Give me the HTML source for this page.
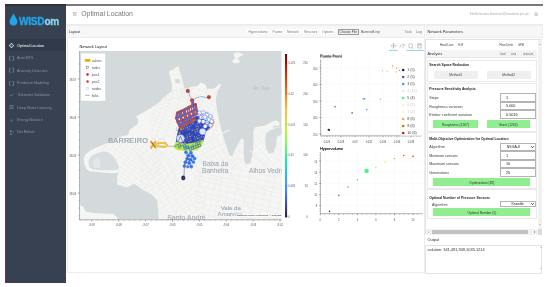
<!DOCTYPE html>
<html><head><meta charset="utf-8">
<style>
*{box-sizing:border-box;margin:0;padding:0}
html,body{width:550px;height:287px;overflow:hidden;background:#fff}
body{position:relative;font-family:"Liberation Sans",Arial,sans-serif;color:#333}
.a{position:absolute;white-space:nowrap}
.sb{position:absolute;left:5px;top:4px;width:61px;height:279px;background:#374151;border-left:1px solid #6b3446}
.si{position:absolute;left:11px;font-size:3.65px;color:#8892a3;line-height:4px}
.ic{position:absolute;left:3.5px;width:3.6px;height:3.6px;border:0.7px solid #7d8797}
.t33{font-size:3.3px;line-height:4px}
.t39{font-size:3.9px;line-height:5px}
.lbl{font-size:3.65px;color:#3c3c3c;line-height:4px}
.inp{position:absolute;left:500px;width:35.7px;height:8.5px;border:0.55px solid #b4b4b4;background:#fff;font-size:3.75px;line-height:7.3px;padding-left:5px;padding-top:0.8px;color:#222}
.gb{position:absolute;background:#90ee90;height:8px;font-size:3.3px;line-height:8px;text-align:center;color:#333;padding-top:1.1px}
.card{position:absolute;left:427px;width:110px;border:0.5px solid #e9e9e9;background:#fff}
.bt{font-weight:bold;font-size:3.4px;color:#222;line-height:4px}
</style></head><body>
<!-- sidebar -->
<div class="sb">
  <!-- logo -->
  <svg class="a" style="left:3px;top:9px" width="9" height="13" viewBox="0 0 9 13"><path d="M4.5 0.2 C5.2 2.5 8.4 5.6 8.4 8.6 A3.9 3.9 0 0 1 0.6 8.6 C0.6 5.6 3.8 2.5 4.5 0.2Z" fill="#1ea7e8"/></svg>
  <div class="a" style="left:12.9px;top:13.2px;font-size:10px;font-weight:bold;line-height:10px;letter-spacing:-0.15px;-webkit-text-stroke:0.3px"><span style="color:#1ea7e8">WISD</span><span style="color:#8fd6f2">om</span></div>
  <div class="a" style="left:0;top:35.4px;width:60px;height:12px;background:#313a4a"></div>
  <svg class="a" style="left:2.8px;top:39px" width="5" height="5" viewBox="0 0 5 5"><circle cx="2.5" cy="2.5" r="1.7" fill="none" stroke="#fff" stroke-width="0.7"/><path d="M2.5 0v1M2.5 4v1M0 2.5h1M4 2.5h1" stroke="#fff" stroke-width="0.6"/></svg>
  <div class="si" style="top:39.5px;color:#fff">Optimal Location</div>
  <svg class="a" style="left:3.4px;top:52.0px" width="5" height="5" viewBox="0 0 5 5"><path d="M1.6 0.5H0.5V4.3H1.6M3.4 0.5H4.5V4.3H3.4" fill="none" stroke="#7d8797" stroke-width="0.75"/></svg><div class="si" style="top:52.4px">Auto MTS</div>
  <svg class="a" style="left:3.4px;top:64.3px" width="5" height="5" viewBox="0 0 5 5"><path d="M1.6 0.5H0.5V4.3H1.6M3.4 0.5H4.5V4.3H3.4" fill="none" stroke="#7d8797" stroke-width="0.75"/></svg><div class="si" style="top:64.7px">Anomaly Detection</div>
  <svg class="a" style="left:3.4px;top:76.6px" width="5" height="5" viewBox="0 0 5 5"><path d="M1.6 0.5H0.5V4.3H1.6M3.4 0.5H4.5V4.3H3.4" fill="none" stroke="#7d8797" stroke-width="0.75"/></svg><div class="si" style="top:77.1px">Predictive Modeling</div>
  <svg class="a" style="left:3px;top:89px" width="5" height="4" viewBox="0 0 5 4"><path d="M0.2 3.6 L1.6 1.8 L2.6 2.8 L4.6 0.5" fill="none" stroke="#7d8797" stroke-width="0.6"/></svg>
  <div class="si" style="top:89.4px">Telemeter Validation</div>
  <svg class="a" style="left:3px;top:101.4px" width="5" height="4" viewBox="0 0 5 4"><path d="M0.3 0.6h4.4M0.3 2h4.4M0.3 3.4h4.4" stroke="#7d8797" stroke-width="0.7"/></svg>
  <div class="si" style="top:101.7px">Deep Water Learning</div>
  <svg class="a" style="left:3px;top:113.5px" width="5" height="5" viewBox="0 0 5 5"><path d="M2.7 0.3 L1.5 2.6 H2.6 L2 4.7 L3.5 2.1 H2.4Z" fill="#7d8797"/></svg>
  <div class="si" style="top:114.4px">Energy Balance</div>
  <svg class="a" style="left:3px;top:125.5px" width="6" height="5" viewBox="0 0 6 5"><circle cx="1.8" cy="1.3" r="1" fill="#7d8797"/><path d="M0.2 4.6 C0.3 3 3.3 3 3.4 4.6Z" fill="#7d8797"/><path d="M3.6 3 L4.6 1.5 L5.6 0.6" stroke="#7d8797" stroke-width="0.5" fill="none"/></svg>
  <div class="si" style="top:126.4px">Net Rehab</div>
</div>
<!-- top bar -->
<div class="a" style="left:5px;top:3.8px;width:538px;height:2.2px;background:#7a7a7a"></div>
<div class="a" style="left:5px;top:3.8px;width:61px;height:2.2px;background:#2c333f"></div>
<!-- header -->
<svg class="a" style="left:73px;top:12px" width="4" height="4" viewBox="0 0 4 4"><path d="M0 0.6h3.6M0 1.9h3.6M0 3.2h3.6" stroke="#aaa" stroke-width="0.7"/></svg>
<div class="a" style="left:81.2px;top:9.8px;font-size:6.9px;color:#777;line-height:8px">Optimal Location</div>
<div class="a" style="left:470.1px;top:12.3px;font-size:3.7px;color:#aaa;line-height:4px">Hello bruno.brentan@wisdom.ips.pt</div>
<svg class="a" style="left:534px;top:12.2px" width="4.4" height="4.4" viewBox="0 0 4.4 4.4"><circle cx="2.2" cy="2.2" r="1.5" fill="none" stroke="#aaa" stroke-width="0.7"/><circle cx="2.2" cy="2.2" r="0.5" fill="#aaa"/></svg>
<div class="a" style="left:66px;top:23.5px;width:477px;height:0.5px;background:#ececec"></div>

<!-- Layout card -->
<div class="a" style="left:67.3px;top:25.2px;width:358px;height:248.3px;border:0.5px solid #ededed;background:#fff"></div>
<div class="a" style="left:67.3px;top:25.2px;width:358px;height:12.4px;background:#f7f7f7;border:0.5px solid #ededed"></div>
<div class="a t39" style="left:68.7px;top:29.5px;font-size:3.8px;color:#333">Layout</div>
<!-- tabs -->
<div class="a" style="left:246.5px;top:29.3px;width:22.9px;height:5px;background:#fff;border-radius:1px"></div>
<div class="a" style="left:270.7px;top:29.3px;width:13px;height:5px;background:#fff;border-radius:1px"></div>
<div class="a" style="left:285.3px;top:29.3px;width:15.7px;height:5px;background:#fff;border-radius:1px"></div>
<div class="a" style="left:302.3px;top:29.3px;width:16.7px;height:5px;background:#fff;border-radius:1px"></div>
<div class="a" style="left:320.4px;top:29.3px;width:15px;height:5px;background:#fff;border-radius:1px"></div>
<div class="a t33" style="left:248.5px;top:29.8px;color:#777">Hypervolume</div>
<div class="a t33" style="left:272.6px;top:29.8px;color:#777">Pareto</div>
<div class="a t33" style="left:287px;top:29.8px;color:#777">Network</div>
<div class="a t33" style="left:304.1px;top:29.8px;color:#777">Structure</div>
<div class="a t33" style="left:322.1px;top:29.8px;color:#777">Options</div>
<div class="a" style="left:338px;top:28.6px;width:21.2px;height:6.5px;background:#efefef;border:0.5px solid #9a9a9a;border-radius:0.8px"></div>
<div class="a t33" style="left:339.6px;top:29.8px;color:#444">Choose File</div>
<div class="a t33" style="left:360.9px;top:29.8px;color:#555">Barreiro8.inp</div>
<div class="a t33" style="left:404.8px;top:29.8px;color:#777">Task</div>
<div class="a t33" style="left:416px;top:29.8px;color:#777">Log</div>

<div class="a" style="left:79.4px;top:44px;font-size:3.95px;color:#222;line-height:5px">Network Layout</div>

<!-- MAP -->
<svg class="a" style="left:0;top:0" width="550" height="287" viewBox="0 0 550 287">
<defs><clipPath id="mc"><rect x="80.0" y="51.0" width="201.7" height="168.6"/></clipPath>
<linearGradient id="cb" x1="0" y1="0" x2="0" y2="1"><stop offset="0.000" stop-color="#7a0402"/><stop offset="0.050" stop-color="#a01101"/><stop offset="0.100" stop-color="#c32402"/><stop offset="0.150" stop-color="#dd3c07"/><stop offset="0.200" stop-color="#ef5a11"/><stop offset="0.250" stop-color="#fa7d20"/><stop offset="0.300" stop-color="#fda330"/><stop offset="0.350" stop-color="#f6c23a"/><stop offset="0.400" stop-color="#e1dc37"/><stop offset="0.450" stop-color="#c3f133"/><stop offset="0.500" stop-color="#a4fc3b"/><stop offset="0.550" stop-color="#78fe59"/><stop offset="0.600" stop-color="#46f783"/><stop offset="0.650" stop-color="#20e9ac"/><stop offset="0.700" stop-color="#18d5cc"/><stop offset="0.750" stop-color="#28bbeb"/><stop offset="0.800" stop-color="#3e9bfe"/><stop offset="0.850" stop-color="#467af2"/><stop offset="0.900" stop-color="#4458cb"/><stop offset="0.950" stop-color="#3c358b"/><stop offset="1.000" stop-color="#30123b"/></linearGradient></defs>
<g clip-path="url(#mc)">
<rect x="80.0" y="51.0" width="201.7" height="168.6" fill="#d4dadc"/>
<polygon points="79.0,204.5 83.3,206.7 85.6,211.2 93.4,212.9 113.5,214.0 116.8,216.8 118.0,220.5 79.0,220.5" fill="#f5f5f4"/>
<polygon points="158.5,220.5 158.6,216.6 157.8,206.7 157.5,200.5 151.8,194.8 142.0,189.2 134.4,183.7 126.7,187.4 117.0,184.6 117.4,176.0 118.4,172.9 112.0,173.3 104.0,172.7 97.0,171.9 93.0,171.6 89.8,171.6 86.5,169.0 84.5,164.5 83.6,158.6 85.3,154.5 90.7,150.3 97.8,146.7 107.3,143.2 114.9,139.6 122.0,136.2 128.1,135.0 129.5,129.9 132.3,127.8 137.6,124.2 138.4,119.6 135.8,116.8 150.0,108.6 160.0,101.8 163.5,97.5 171.3,91.4 172.2,86.1 169.6,74.8 168.7,71.8 178.3,66.1 178.8,67.8 181.8,77.4 184.4,88.7 191.4,87.0 197.5,86.1 201.0,82.6 205.3,84.4 207.0,88.7 214.0,88.7 220.1,83.5 221.0,85.3 217.5,91.4 215.7,100.0 217.3,111.3 219.5,122.6 221.7,131.3 225.5,143.7 229.4,155.2 232.2,156.2 234.2,151.4 237.0,145.7 240.3,140.2 242.1,137.9 243.8,140.5 243.6,152.0 244.0,160.0 246.0,164.5 250.5,163.0 253.2,150.0 253.4,131.0 255.0,127.5 283.0,127.5 283.0,220.5" fill="#f5f5f4"/>
<polygon points="174.8,79.5 179.5,78.8 180.3,83.5 176.0,83.0" fill="#d4dadc"/>
<polygon points="265.5,134.0 269.0,131.0 274.0,128.5 283.0,127.4 283.0,133.0 277.0,137.0 276.0,146.0 273.5,152.5 269.0,153.6 266.2,149.0 265.3,141.0" fill="#d4dadc"/>
<polygon points="255.0,127.5 265.0,125.5 272.5,121.5 276.3,120.3 280.0,123.5 278.5,126.5 275.0,125.2 269.0,129.5 265.5,134.0 255.0,134.0" fill="#f5f5f4"/>
<polygon points="234.0,53.0 238.0,52.2 243.5,54.3 241.0,56.3 238.5,57.3 237.5,59.3 239.6,60.3 239.5,63.1 233.0,63.3 232.5,60.6 235.0,58.2 234.0,56.0" fill="#f4f4f3"/>
<clipPath id="lc"><polygon points="79.0,204.5 83.3,206.7 85.6,211.2 93.4,212.9 113.5,214.0 116.8,216.8 118.0,220.5 79.0,220.5"/><polygon points="158.5,220.5 158.6,216.6 157.8,206.7 157.5,200.5 151.8,194.8 142.0,189.2 134.4,183.7 126.7,187.4 117.0,184.6 117.4,176.0 118.4,172.9 112.0,173.3 104.0,172.7 97.0,171.9 93.0,171.6 89.8,171.6 86.5,169.0 84.5,164.5 83.6,158.6 85.3,154.5 90.7,150.3 97.8,146.7 107.3,143.2 114.9,139.6 122.0,136.2 128.1,135.0 129.5,129.9 132.3,127.8 137.6,124.2 138.4,119.6 135.8,116.8 150.0,108.6 160.0,101.8 163.5,97.5 171.3,91.4 172.2,86.1 169.6,74.8 168.7,71.8 178.3,66.1 178.8,67.8 181.8,77.4 184.4,88.7 191.4,87.0 197.5,86.1 201.0,82.6 205.3,84.4 207.0,88.7 214.0,88.7 220.1,83.5 221.0,85.3 217.5,91.4 215.7,100.0 217.3,111.3 219.5,122.6 221.7,131.3 225.5,143.7 229.4,155.2 232.2,156.2 234.2,151.4 237.0,145.7 240.3,140.2 242.1,137.9 243.8,140.5 243.6,152.0 244.0,160.0 246.0,164.5 250.5,163.0 253.2,150.0 253.4,131.0 255.0,127.5 283.0,127.5 283.0,220.5"/></clipPath>
<g clip-path="url(#lc)" stroke="#e4e5e6" stroke-width="0.35" fill="none">
<path d="M159.1 138.0L162.0 140.1M152.5 138.0L162.0 144.7M147.4 138.0L162.0 148.2M141.2 138.0L162.0 152.5M136.1 138.0L162.0 156.1M128.4 138.0L162.0 161.5M121.7 138.0L162.0 166.2M115.7 138.0L162.0 170.4M110.7 138.0L162.0 173.9M105.4 138.0L162.0 177.6M99.0 138.0L162.0 182.1M96.0 140.0L162.0 186.2M96.0 144.4L161.1 190.0M96.0 149.9L153.3 190.0M96.0 154.8L146.3 190.0M96.0 158.7L140.7 190.0M96.0 163.7L133.6 190.0M96.0 167.7L127.8 190.0M96.0 172.0L121.7 190.0M96.0 176.6L115.1 190.0M96.0 181.5L108.1 190.0M96.0 186.6L100.9 190.0M102.3 138.0L96.0 147.0M111.3 138.0L96.0 159.8M118.5 138.0L96.0 170.1M125.3 138.0L96.0 179.8M131.3 138.0L96.0 188.5M141.4 138.0L105.0 190.0M148.5 138.0L112.1 190.0M155.4 138.0L118.9 190.0M162.0 141.5L128.0 190.0M162.0 153.3L136.3 190.0M162.0 163.6L143.5 190.0M162.0 174.8L151.3 190.0M162.0 185.9L159.1 190.0"/>
<path d="M140.0 155.2L148.4 150.0M140.0 161.7L158.8 150.0M140.0 166.0L165.7 150.0M140.0 172.1L175.4 150.0M140.0 177.5L184.0 150.0M140.0 181.2L190.0 150.0M140.0 186.4L198.2 150.0M140.0 193.0L205.0 152.3M140.0 197.7L205.0 157.1M140.0 202.0L205.0 161.4M140.0 206.8L205.0 166.2M140.0 211.1L205.0 170.5M140.0 215.1L205.0 174.5M142.5 220.0L205.0 181.0M151.7 220.0L205.0 186.7M158.4 220.0L205.0 190.9M165.6 220.0L205.0 195.4M171.8 220.0L205.0 199.2M181.8 220.0L205.0 205.5M192.1 220.0L205.0 212.0M202.6 220.0L205.0 218.5M140.0 210.4L146.0 220.0M140.0 197.0L154.3 220.0M140.0 179.1L165.6 220.0M140.0 167.1L173.0 220.0M140.0 154.7L180.8 220.0M145.9 150.0L189.6 220.0M152.3 150.0L196.1 220.0M159.4 150.0L203.2 220.0M169.8 150.0L205.0 206.4M178.4 150.0L205.0 192.6M185.6 150.0L205.0 181.1M193.4 150.0L205.0 168.6M202.8 150.0L205.0 153.5"/>
<path d="M256.6 168.0L284.0 173.8M232.8 168.0L284.0 178.9M202.3 168.0L284.0 185.4M195.0 171.7L284.0 190.6M195.0 175.5L284.0 194.4M195.0 179.3L284.0 198.2M195.0 185.0L284.0 204.0M195.0 191.3L284.0 210.2M195.0 195.5L284.0 214.4M195.0 201.5L284.0 220.5M195.0 207.0L260.7 221.0M195.0 212.8L233.5 221.0M195.0 218.1L208.9 221.0M202.4 168.0L195.0 202.6M211.9 168.0L200.6 221.0M218.4 168.0L207.2 221.0M224.6 168.0L213.3 221.0M232.6 168.0L221.3 221.0M241.0 168.0L229.7 221.0M251.5 168.0L240.3 221.0M260.7 168.0L249.4 221.0M269.9 168.0L258.6 221.0M276.9 168.0L265.6 221.0M284.0 180.5L275.4 221.0M284.0 217.9L283.3 221.0"/>
<path d="M211.3 88.0L218.0 90.7M203.2 88.0L218.0 94.0M194.4 88.0L218.0 97.5M180.0 88.0L218.0 103.3M170.2 88.0L218.0 107.3M159.9 88.0L218.0 111.5M151.1 88.0L218.0 115.0M150.0 93.0L218.0 120.5M150.0 96.5L218.0 124.0M150.0 100.1L218.0 127.6M150.0 103.5L218.0 131.0M150.0 108.5L218.0 136.0M150.0 112.5L218.0 140.0M150.0 116.0L209.3 140.0M150.0 119.7L200.2 140.0M150.0 123.1L191.8 140.0M150.0 128.4L178.8 140.0M150.0 133.8L165.4 140.0M150.0 137.4L156.4 140.0M154.2 88.0L150.0 98.5M163.9 88.0L150.0 122.3M169.4 88.0L150.0 136.0M175.3 88.0L154.3 140.0M184.3 88.0L163.3 140.0M193.2 88.0L172.2 140.0M200.2 88.0L179.2 140.0M207.8 88.0L186.8 140.0M217.1 88.0L196.0 140.0M218.0 102.0L202.6 140.0M218.0 121.7L210.6 140.0"/>
<path d="M222.0 132.1L226.6 128.0M222.0 138.4L233.5 128.0M222.0 145.2L241.2 128.0M222.0 149.7L246.2 128.0M222.0 154.8L251.8 128.0M222.0 160.1L257.6 128.0M222.0 167.0L265.3 128.0M225.3 168.0L269.7 128.0M231.5 168.0L275.9 128.0M239.3 168.0L283.7 128.0M244.4 168.0L284.0 132.3M252.4 168.0L284.0 139.5M257.8 168.0L284.0 144.4M263.0 168.0L284.0 149.1M270.7 168.0L284.0 156.1M277.2 168.0L284.0 161.9M283.0 168.0L284.0 167.1M222.0 159.2L229.9 168.0M222.0 150.5L237.8 168.0M222.0 139.9L247.3 168.0M222.0 130.2L256.0 168.0M229.2 128.0L265.2 168.0M240.3 128.0L276.3 168.0M249.9 128.0L284.0 165.9M259.3 128.0L284.0 155.4M271.2 128.0L284.0 142.2M280.6 128.0L284.0 131.8"/>
<path d="M235.9 138.0L240.0 145.1M231.3 138.0L240.0 153.1M227.0 138.0L240.0 160.6M222.2 138.0L240.0 168.9M215.8 138.0L234.2 170.0M209.4 138.0L227.9 170.0M204.1 138.0L222.6 170.0M200.0 138.1L218.4 170.0M200.0 147.2L213.2 170.0M200.0 157.2L207.4 170.0M200.0 166.4L202.1 170.0M216.5 138.0L200.0 147.5M231.2 138.0L200.0 156.0M240.0 140.1L200.0 163.2M240.0 150.0L205.3 170.0M240.0 157.0L217.5 170.0M240.0 163.4L228.5 170.0"/>
<path d="M189.4 60.0L190.0 63.3M185.1 60.0L190.0 87.7M181.9 60.0L189.0 100.0M178.7 60.0L185.8 100.0M176.0 60.0L183.0 100.0M171.6 60.0L178.6 100.0M166.8 60.0L173.9 100.0M162.8 60.0L169.8 100.0M160.0 64.0L166.4 100.0M160.0 84.9L162.7 100.0M189.1 60.0L160.0 65.1M190.0 67.0L160.0 72.3M190.0 72.2L160.0 77.4M190.0 79.7L160.0 85.0M190.0 87.7L160.0 93.0M190.0 95.5L164.4 100.0"/>
</g>
<polygon points="88.6,160.0 91.5,155.8 97.5,153.0 103.5,151.6 108.0,152.2 112.5,155.5 116.5,161.0 119.0,167.0 118.0,169.8 112.0,170.3 105.0,169.9 98.0,170.1 93.0,169.6 89.6,167.8 88.4,163.5" fill="#d8dee0"/>
<polygon points="93.2,160.5 97.5,157.8 100.6,161.5 100.0,167.5 95.5,168.3 93.2,165.5" fill="#e3e7e8"/>
<polyline points="160.0,186.0 175.0,168.0 190.0,150.0 205.0,140.0 230.0,130.0" fill="none" stroke="#e2e3e4" stroke-width="1.2"/>
<polyline points="160.0,186.0 175.0,168.0 190.0,150.0 205.0,140.0 230.0,130.0" fill="none" stroke="#fdfdfd" stroke-width="0.7"/>
<polyline points="205.0,182.0 225.0,178.0 250.0,176.0 283.0,174.0" fill="none" stroke="#e2e3e4" stroke-width="1.2"/>
<polyline points="205.0,182.0 225.0,178.0 250.0,176.0 283.0,174.0" fill="none" stroke="#fdfdfd" stroke-width="0.7"/>
<polyline points="170.0,200.0 190.0,195.0 215.0,197.0 240.0,190.0 283.0,186.0" fill="none" stroke="#e2e3e4" stroke-width="1.2"/>
<polyline points="170.0,200.0 190.0,195.0 215.0,197.0 240.0,190.0 283.0,186.0" fill="none" stroke="#fdfdfd" stroke-width="0.7"/>
<polyline points="160.0,150.0 170.0,160.0 175.0,175.0 176.0,200.0 178.0,219.0" fill="none" stroke="#e2e3e4" stroke-width="1.2"/>
<polyline points="160.0,150.0 170.0,160.0 175.0,175.0 176.0,200.0 178.0,219.0" fill="none" stroke="#fdfdfd" stroke-width="0.7"/>
<polyline points="135.0,150.0 145.0,165.0 150.0,185.0" fill="none" stroke="#e2e3e4" stroke-width="1.2"/>
<polyline points="135.0,150.0 145.0,165.0 150.0,185.0" fill="none" stroke="#fdfdfd" stroke-width="0.7"/>
<polyline points="200.0,150.0 210.0,160.0 222.0,168.0 233.0,178.0 245.0,200.0 255.0,219.0" fill="none" stroke="#e2e3e4" stroke-width="1.2"/>
<polyline points="200.0,150.0 210.0,160.0 222.0,168.0 233.0,178.0 245.0,200.0 255.0,219.0" fill="none" stroke="#fdfdfd" stroke-width="0.7"/>
<polyline points="140.0,165.0 158.0,158.0 168.0,150.0" fill="none" stroke="#e2e3e4" stroke-width="1.2"/>
<polyline points="140.0,165.0 158.0,158.0 168.0,150.0" fill="none" stroke="#fdfdfd" stroke-width="0.7"/>
<polyline points="190.0,190.0 200.0,175.0 215.0,165.0" fill="none" stroke="#e2e3e4" stroke-width="1.2"/>
<polyline points="190.0,190.0 200.0,175.0 215.0,165.0" fill="none" stroke="#fdfdfd" stroke-width="0.7"/>
<polyline points="250.0,150.0 260.0,160.0 270.0,168.0" fill="none" stroke="#e2e3e4" stroke-width="1.2"/>
<polyline points="250.0,150.0 260.0,160.0 270.0,168.0" fill="none" stroke="#fdfdfd" stroke-width="0.7"/>
<text x="108.3" y="142.6" font-size="7.3" letter-spacing="0.2" fill="#939dab" stroke="#939dab" stroke-width="0.18" font-family="Liberation Sans">BARREIRO</text>
<text x="202.5" y="166.4" font-size="6.6" fill="#a3abb6" stroke="#a3abb6" stroke-width="0.1" font-family="Liberation Sans">Baixa da</text>
<text x="202" y="173" font-size="6.6" fill="#a3abb6" stroke="#a3abb6" stroke-width="0.1" font-family="Liberation Sans">Banheira</text>
<text x="249" y="172.7" font-size="6.6" fill="#a3abb6" stroke="#a3abb6" stroke-width="0.1" font-family="Liberation Sans">Alhos Vedros</text>
<text x="220.7" y="210.4" font-size="6.1" fill="#a0a9b8" stroke="#a0a9b8" stroke-width="0.1" font-family="Liberation Sans">Vale da</text>
<text x="217.6" y="216" font-size="6.1" fill="#a0a9b8" stroke="#a0a9b8" stroke-width="0.1" font-family="Liberation Sans">Amoreira</text>
<text x="167.2" y="219.6" font-size="7" fill="#a0a9b8" stroke="#a0a9b8" stroke-width="0.1" font-family="Liberation Sans">Santo André</text>
<text x="253" y="89.5" font-size="4.5" fill="#b8bec4" font-family="Liberation Sans">Rio Tejo</text>
<text x="175.8" y="131" font-size="5" fill="#b0b6be" font-family="Liberation Sans">Lavradio</text>
<polyline points="188.2,91 190,96 192.2,100.4" fill="none" stroke="#4a68d6" stroke-width="0.45"/>
<polyline points="192.2,100.4 195,98.5 198,97.3 202,96.6 206,97.5 209.1,96.9" fill="none" stroke="#4a68d6" stroke-width="0.45"/>
<polyline points="192.2,100.4 192.5,104" fill="none" stroke="#4a68d6" stroke-width="0.45"/>
<circle cx="187.8" cy="90.9" r="1.85" fill="#cf3a1c" stroke="#a8301c" stroke-width="0.30"/>
<circle cx="187.8" cy="90.9" r="0.60" fill="#4a5cc8"/>
<circle cx="192.1" cy="100.3" r="1.85" fill="#cf3a1c" stroke="#a8301c" stroke-width="0.30"/>
<circle cx="192.1" cy="100.3" r="0.60" fill="#4a5cc8"/>
<circle cx="208.9" cy="97.1" r="1.85" fill="#cf3a1c" stroke="#a8301c" stroke-width="0.30"/>
<circle cx="208.9" cy="97.1" r="0.60" fill="#4a5cc8"/>
<polygon points="180.5,123.5 186.0,121.0 192.0,118.5 197.0,116.0 200.5,117.5 205.0,120.5 211.0,123.0 209.5,128.0 205.2,132.0 204.2,137.0 202.8,141.5 199.0,143.8 192.0,144.8 186.0,145.2 180.0,144.8 176.2,143.0 177.0,137.0 178.5,130.0" fill="#3150c6" stroke="#3150c6" stroke-width="0.8" stroke-linejoin="round"/>
<line x1="177.5" y1="140.9" x2="179.5" y2="139.9" stroke="#2540b4" stroke-width="0.70"/>
<line x1="177.5" y1="140.9" x2="178.2" y2="143.1" stroke="#4a6ae0" stroke-width="0.70"/>
<line x1="178.2" y1="143.1" x2="180.1" y2="142.4" stroke="#1f36a8" stroke-width="0.70"/>
<line x1="178.3" y1="135.5" x2="180.1" y2="134.9" stroke="#4a6ae0" stroke-width="0.70"/>
<line x1="178.3" y1="135.5" x2="178.9" y2="138.0" stroke="#1f36a8" stroke-width="0.70"/>
<line x1="178.9" y1="138.0" x2="180.8" y2="137.0" stroke="#4a6ae0" stroke-width="0.70"/>
<line x1="178.9" y1="138.0" x2="179.5" y2="139.9" stroke="#2540b4" stroke-width="0.70"/>
<line x1="179.5" y1="139.9" x2="181.4" y2="139.4" stroke="#2540b4" stroke-width="0.70"/>
<line x1="179.5" y1="139.9" x2="180.1" y2="142.4" stroke="#2540b4" stroke-width="0.70"/>
<line x1="180.1" y1="142.4" x2="182.0" y2="141.6" stroke="#2a44bc" stroke-width="0.70"/>
<line x1="180.1" y1="142.4" x2="180.6" y2="144.3" stroke="#2540b4" stroke-width="0.70"/>
<line x1="180.6" y1="144.3" x2="182.8" y2="143.6" stroke="#2a44bc" stroke-width="0.70"/>
<line x1="178.8" y1="130.6" x2="181.1" y2="129.5" stroke="#1f36a8" stroke-width="0.70"/>
<line x1="178.8" y1="130.6" x2="179.6" y2="132.8" stroke="#2540b4" stroke-width="0.70"/>
<line x1="179.6" y1="132.8" x2="181.7" y2="132.1" stroke="#2540b4" stroke-width="0.70"/>
<line x1="179.6" y1="132.8" x2="180.1" y2="134.9" stroke="#4a6ae0" stroke-width="0.70"/>
<line x1="180.1" y1="134.9" x2="182.4" y2="134.1" stroke="#4a6ae0" stroke-width="0.70"/>
<line x1="180.8" y1="137.0" x2="183.0" y2="136.4" stroke="#4a6ae0" stroke-width="0.70"/>
<line x1="180.8" y1="137.0" x2="181.4" y2="139.4" stroke="#1f36a8" stroke-width="0.70"/>
<line x1="181.4" y1="139.4" x2="183.7" y2="138.4" stroke="#4a6ae0" stroke-width="0.70"/>
<line x1="181.4" y1="139.4" x2="182.0" y2="141.6" stroke="#2a44bc" stroke-width="0.70"/>
<line x1="182.0" y1="141.6" x2="184.3" y2="140.7" stroke="#1f36a8" stroke-width="0.70"/>
<line x1="182.0" y1="141.6" x2="182.8" y2="143.6" stroke="#2540b4" stroke-width="0.70"/>
<line x1="182.8" y1="143.6" x2="184.9" y2="142.8" stroke="#2a44bc" stroke-width="0.70"/>
<line x1="180.6" y1="127.5" x2="181.1" y2="129.5" stroke="#4a6ae0" stroke-width="0.70"/>
<line x1="181.1" y1="129.5" x2="183.2" y2="128.9" stroke="#2a44bc" stroke-width="0.70"/>
<line x1="181.1" y1="129.5" x2="181.7" y2="132.1" stroke="#2540b4" stroke-width="0.70"/>
<line x1="181.7" y1="132.1" x2="183.8" y2="131.1" stroke="#4a6ae0" stroke-width="0.70"/>
<line x1="181.7" y1="132.1" x2="182.4" y2="134.1" stroke="#1f36a8" stroke-width="0.70"/>
<line x1="182.4" y1="134.1" x2="184.4" y2="133.3" stroke="#2540b4" stroke-width="0.70"/>
<line x1="183.0" y1="136.4" x2="185.2" y2="135.4" stroke="#2540b4" stroke-width="0.70"/>
<line x1="183.0" y1="136.4" x2="183.7" y2="138.4" stroke="#2540b4" stroke-width="0.70"/>
<line x1="183.7" y1="138.4" x2="185.8" y2="137.8" stroke="#2a44bc" stroke-width="0.70"/>
<line x1="183.7" y1="138.4" x2="184.3" y2="140.7" stroke="#2540b4" stroke-width="0.70"/>
<line x1="184.3" y1="140.7" x2="186.1" y2="139.9" stroke="#1f36a8" stroke-width="0.70"/>
<line x1="184.3" y1="140.7" x2="184.9" y2="142.8" stroke="#4a6ae0" stroke-width="0.70"/>
<line x1="184.9" y1="142.8" x2="187.0" y2="142.2" stroke="#2a44bc" stroke-width="0.70"/>
<line x1="184.9" y1="142.8" x2="185.5" y2="145.1" stroke="#4a6ae0" stroke-width="0.70"/>
<line x1="185.5" y1="145.1" x2="187.6" y2="144.3" stroke="#2a44bc" stroke-width="0.70"/>
<line x1="182.0" y1="124.4" x2="183.8" y2="123.9" stroke="#2540b4" stroke-width="0.70"/>
<line x1="182.0" y1="124.4" x2="182.4" y2="126.5" stroke="#2540b4" stroke-width="0.70"/>
<line x1="182.4" y1="126.5" x2="184.4" y2="126.1" stroke="#2540b4" stroke-width="0.70"/>
<line x1="182.4" y1="126.5" x2="183.2" y2="128.9" stroke="#4a6ae0" stroke-width="0.70"/>
<line x1="183.2" y1="128.9" x2="185.1" y2="128.0" stroke="#2a44bc" stroke-width="0.70"/>
<line x1="183.2" y1="128.9" x2="183.8" y2="131.1" stroke="#1f36a8" stroke-width="0.70"/>
<line x1="183.8" y1="131.1" x2="185.9" y2="130.2" stroke="#2a44bc" stroke-width="0.70"/>
<line x1="183.8" y1="131.1" x2="184.4" y2="133.3" stroke="#1f36a8" stroke-width="0.70"/>
<line x1="184.4" y1="133.3" x2="186.5" y2="132.7" stroke="#1f36a8" stroke-width="0.70"/>
<line x1="184.4" y1="133.3" x2="185.2" y2="135.4" stroke="#1f36a8" stroke-width="0.70"/>
<line x1="185.2" y1="135.4" x2="187.1" y2="134.8" stroke="#2a44bc" stroke-width="0.70"/>
<line x1="185.2" y1="135.4" x2="185.8" y2="137.8" stroke="#2540b4" stroke-width="0.70"/>
<line x1="185.8" y1="137.8" x2="187.6" y2="137.0" stroke="#2540b4" stroke-width="0.70"/>
<line x1="185.8" y1="137.8" x2="186.1" y2="139.9" stroke="#1f36a8" stroke-width="0.70"/>
<line x1="186.1" y1="139.9" x2="188.2" y2="139.3" stroke="#2540b4" stroke-width="0.70"/>
<line x1="186.1" y1="139.9" x2="187.0" y2="142.2" stroke="#2540b4" stroke-width="0.70"/>
<line x1="187.0" y1="142.2" x2="187.6" y2="144.3" stroke="#1f36a8" stroke-width="0.70"/>
<line x1="187.6" y1="144.3" x2="189.6" y2="143.6" stroke="#4a6ae0" stroke-width="0.70"/>
<line x1="183.8" y1="123.9" x2="186.1" y2="123.1" stroke="#1f36a8" stroke-width="0.70"/>
<line x1="184.4" y1="126.1" x2="186.7" y2="125.2" stroke="#1f36a8" stroke-width="0.70"/>
<line x1="184.4" y1="126.1" x2="185.1" y2="128.0" stroke="#2a44bc" stroke-width="0.70"/>
<line x1="185.1" y1="128.0" x2="187.4" y2="127.5" stroke="#4a6ae0" stroke-width="0.70"/>
<line x1="185.1" y1="128.0" x2="185.9" y2="130.2" stroke="#1f36a8" stroke-width="0.70"/>
<line x1="185.9" y1="130.2" x2="188.1" y2="129.6" stroke="#1f36a8" stroke-width="0.70"/>
<line x1="185.9" y1="130.2" x2="186.5" y2="132.7" stroke="#2540b4" stroke-width="0.70"/>
<line x1="186.5" y1="132.7" x2="188.7" y2="131.9" stroke="#1f36a8" stroke-width="0.70"/>
<line x1="186.5" y1="132.7" x2="187.1" y2="134.8" stroke="#2a44bc" stroke-width="0.70"/>
<line x1="187.1" y1="134.8" x2="189.4" y2="133.9" stroke="#2a44bc" stroke-width="0.70"/>
<line x1="187.1" y1="134.8" x2="187.6" y2="137.0" stroke="#4a6ae0" stroke-width="0.70"/>
<line x1="187.6" y1="137.0" x2="190.0" y2="136.4" stroke="#1f36a8" stroke-width="0.70"/>
<line x1="187.6" y1="137.0" x2="188.2" y2="139.3" stroke="#4a6ae0" stroke-width="0.70"/>
<line x1="188.2" y1="139.3" x2="190.3" y2="138.6" stroke="#1f36a8" stroke-width="0.70"/>
<line x1="188.2" y1="139.3" x2="188.9" y2="141.5" stroke="#1f36a8" stroke-width="0.70"/>
<line x1="188.9" y1="141.5" x2="189.6" y2="143.6" stroke="#2a44bc" stroke-width="0.70"/>
<line x1="189.6" y1="143.6" x2="191.7" y2="142.8" stroke="#1f36a8" stroke-width="0.70"/>
<line x1="186.1" y1="123.1" x2="188.3" y2="122.4" stroke="#4a6ae0" stroke-width="0.70"/>
<line x1="186.1" y1="123.1" x2="186.7" y2="125.2" stroke="#1f36a8" stroke-width="0.70"/>
<line x1="186.7" y1="125.2" x2="188.6" y2="124.5" stroke="#2540b4" stroke-width="0.70"/>
<line x1="186.7" y1="125.2" x2="187.4" y2="127.5" stroke="#4a6ae0" stroke-width="0.70"/>
<line x1="187.4" y1="127.5" x2="189.4" y2="126.5" stroke="#1f36a8" stroke-width="0.70"/>
<line x1="187.4" y1="127.5" x2="188.1" y2="129.6" stroke="#4a6ae0" stroke-width="0.70"/>
<line x1="188.1" y1="129.6" x2="189.9" y2="129.0" stroke="#4a6ae0" stroke-width="0.70"/>
<line x1="188.7" y1="131.9" x2="190.7" y2="131.0" stroke="#1f36a8" stroke-width="0.70"/>
<line x1="188.7" y1="131.9" x2="189.4" y2="133.9" stroke="#2a44bc" stroke-width="0.70"/>
<line x1="189.4" y1="133.9" x2="191.3" y2="133.2" stroke="#2540b4" stroke-width="0.70"/>
<line x1="189.4" y1="133.9" x2="190.0" y2="136.4" stroke="#2a44bc" stroke-width="0.70"/>
<line x1="190.0" y1="136.4" x2="191.9" y2="135.5" stroke="#1f36a8" stroke-width="0.70"/>
<line x1="190.0" y1="136.4" x2="190.3" y2="138.6" stroke="#2540b4" stroke-width="0.70"/>
<line x1="190.3" y1="138.6" x2="192.7" y2="137.8" stroke="#2540b4" stroke-width="0.70"/>
<line x1="190.3" y1="138.6" x2="191.0" y2="140.6" stroke="#2540b4" stroke-width="0.70"/>
<line x1="191.0" y1="140.6" x2="193.3" y2="140.0" stroke="#1f36a8" stroke-width="0.70"/>
<line x1="191.0" y1="140.6" x2="191.7" y2="142.8" stroke="#2540b4" stroke-width="0.70"/>
<line x1="191.7" y1="142.8" x2="193.7" y2="142.3" stroke="#1f36a8" stroke-width="0.70"/>
<line x1="188.3" y1="122.4" x2="190.0" y2="121.6" stroke="#1f36a8" stroke-width="0.70"/>
<line x1="188.3" y1="122.4" x2="188.6" y2="124.5" stroke="#1f36a8" stroke-width="0.70"/>
<line x1="188.6" y1="124.5" x2="190.9" y2="123.7" stroke="#2540b4" stroke-width="0.70"/>
<line x1="188.6" y1="124.5" x2="189.4" y2="126.5" stroke="#4a6ae0" stroke-width="0.70"/>
<line x1="189.4" y1="126.5" x2="191.6" y2="126.1" stroke="#4a6ae0" stroke-width="0.70"/>
<line x1="189.4" y1="126.5" x2="189.9" y2="129.0" stroke="#2540b4" stroke-width="0.70"/>
<line x1="189.9" y1="129.0" x2="192.1" y2="128.3" stroke="#1f36a8" stroke-width="0.70"/>
<line x1="189.9" y1="129.0" x2="190.7" y2="131.0" stroke="#1f36a8" stroke-width="0.70"/>
<line x1="190.7" y1="131.0" x2="192.7" y2="130.5" stroke="#4a6ae0" stroke-width="0.70"/>
<line x1="190.7" y1="131.0" x2="191.3" y2="133.2" stroke="#2540b4" stroke-width="0.70"/>
<line x1="191.3" y1="133.2" x2="193.2" y2="132.6" stroke="#1f36a8" stroke-width="0.70"/>
<line x1="191.9" y1="135.5" x2="194.0" y2="134.8" stroke="#2540b4" stroke-width="0.70"/>
<line x1="191.9" y1="135.5" x2="192.7" y2="137.8" stroke="#2540b4" stroke-width="0.70"/>
<line x1="192.7" y1="137.8" x2="194.5" y2="136.8" stroke="#2a44bc" stroke-width="0.70"/>
<line x1="192.7" y1="137.8" x2="193.3" y2="140.0" stroke="#1f36a8" stroke-width="0.70"/>
<line x1="193.3" y1="140.0" x2="195.3" y2="139.3" stroke="#1f36a8" stroke-width="0.70"/>
<line x1="193.3" y1="140.0" x2="193.7" y2="142.3" stroke="#1f36a8" stroke-width="0.70"/>
<line x1="193.7" y1="142.3" x2="195.8" y2="141.3" stroke="#2540b4" stroke-width="0.70"/>
<line x1="193.7" y1="142.3" x2="194.5" y2="144.4" stroke="#2540b4" stroke-width="0.70"/>
<line x1="194.5" y1="144.4" x2="196.4" y2="143.4" stroke="#1f36a8" stroke-width="0.70"/>
<line x1="190.0" y1="121.6" x2="192.2" y2="120.9" stroke="#1f36a8" stroke-width="0.70"/>
<line x1="190.0" y1="121.6" x2="190.9" y2="123.7" stroke="#1f36a8" stroke-width="0.70"/>
<line x1="190.9" y1="123.7" x2="193.0" y2="123.1" stroke="#4a6ae0" stroke-width="0.70"/>
<line x1="190.9" y1="123.7" x2="191.6" y2="126.1" stroke="#4a6ae0" stroke-width="0.70"/>
<line x1="191.6" y1="126.1" x2="193.5" y2="125.3" stroke="#2a44bc" stroke-width="0.70"/>
<line x1="191.6" y1="126.1" x2="192.1" y2="128.3" stroke="#2a44bc" stroke-width="0.70"/>
<line x1="192.1" y1="128.3" x2="192.7" y2="130.5" stroke="#4a6ae0" stroke-width="0.70"/>
<line x1="192.7" y1="130.5" x2="194.8" y2="129.6" stroke="#2a44bc" stroke-width="0.70"/>
<line x1="192.7" y1="130.5" x2="193.2" y2="132.6" stroke="#1f36a8" stroke-width="0.70"/>
<line x1="193.2" y1="132.6" x2="195.3" y2="131.7" stroke="#2540b4" stroke-width="0.70"/>
<line x1="194.0" y1="134.8" x2="195.8" y2="134.2" stroke="#1f36a8" stroke-width="0.70"/>
<line x1="194.0" y1="134.8" x2="194.5" y2="136.8" stroke="#2a44bc" stroke-width="0.70"/>
<line x1="194.5" y1="136.8" x2="196.7" y2="136.4" stroke="#1f36a8" stroke-width="0.70"/>
<line x1="194.5" y1="136.8" x2="195.3" y2="139.3" stroke="#4a6ae0" stroke-width="0.70"/>
<line x1="195.8" y1="141.3" x2="198.0" y2="140.6" stroke="#2a44bc" stroke-width="0.70"/>
<line x1="195.8" y1="141.3" x2="196.4" y2="143.4" stroke="#2a44bc" stroke-width="0.70"/>
<line x1="196.4" y1="143.4" x2="198.7" y2="143.0" stroke="#2a44bc" stroke-width="0.70"/>
<line x1="192.2" y1="120.9" x2="194.4" y2="120.1" stroke="#2a44bc" stroke-width="0.70"/>
<line x1="192.2" y1="120.9" x2="193.0" y2="123.1" stroke="#2540b4" stroke-width="0.70"/>
<line x1="193.0" y1="123.1" x2="194.9" y2="122.1" stroke="#1f36a8" stroke-width="0.70"/>
<line x1="193.0" y1="123.1" x2="193.5" y2="125.3" stroke="#4a6ae0" stroke-width="0.70"/>
<line x1="193.5" y1="125.3" x2="195.6" y2="124.3" stroke="#2a44bc" stroke-width="0.70"/>
<line x1="193.5" y1="125.3" x2="194.0" y2="127.2" stroke="#1f36a8" stroke-width="0.70"/>
<line x1="194.0" y1="127.2" x2="196.1" y2="126.5" stroke="#2540b4" stroke-width="0.70"/>
<line x1="194.0" y1="127.2" x2="194.8" y2="129.6" stroke="#1f36a8" stroke-width="0.70"/>
<line x1="194.8" y1="129.6" x2="197.0" y2="128.9" stroke="#4a6ae0" stroke-width="0.70"/>
<line x1="195.3" y1="131.7" x2="195.8" y2="134.2" stroke="#4a6ae0" stroke-width="0.70"/>
<line x1="195.8" y1="134.2" x2="198.2" y2="133.4" stroke="#2a44bc" stroke-width="0.70"/>
<line x1="195.8" y1="134.2" x2="196.7" y2="136.4" stroke="#2a44bc" stroke-width="0.70"/>
<line x1="196.7" y1="136.4" x2="198.9" y2="135.3" stroke="#1f36a8" stroke-width="0.70"/>
<line x1="197.5" y1="138.4" x2="199.3" y2="137.6" stroke="#4a6ae0" stroke-width="0.70"/>
<line x1="197.5" y1="138.4" x2="198.0" y2="140.6" stroke="#1f36a8" stroke-width="0.70"/>
<line x1="198.0" y1="140.6" x2="200.1" y2="139.8" stroke="#4a6ae0" stroke-width="0.70"/>
<line x1="198.0" y1="140.6" x2="198.7" y2="143.0" stroke="#2540b4" stroke-width="0.70"/>
<line x1="198.7" y1="143.0" x2="200.7" y2="142.3" stroke="#1f36a8" stroke-width="0.70"/>
<line x1="194.4" y1="120.1" x2="196.3" y2="119.1" stroke="#2540b4" stroke-width="0.70"/>
<line x1="194.4" y1="120.1" x2="194.9" y2="122.1" stroke="#2a44bc" stroke-width="0.70"/>
<line x1="194.9" y1="122.1" x2="196.8" y2="121.5" stroke="#2a44bc" stroke-width="0.70"/>
<line x1="194.9" y1="122.1" x2="195.6" y2="124.3" stroke="#2540b4" stroke-width="0.70"/>
<line x1="195.6" y1="124.3" x2="197.8" y2="123.7" stroke="#4a6ae0" stroke-width="0.70"/>
<line x1="195.6" y1="124.3" x2="196.1" y2="126.5" stroke="#4a6ae0" stroke-width="0.70"/>
<line x1="196.1" y1="126.5" x2="198.2" y2="126.0" stroke="#4a6ae0" stroke-width="0.70"/>
<line x1="196.1" y1="126.5" x2="197.0" y2="128.9" stroke="#2540b4" stroke-width="0.70"/>
<line x1="197.0" y1="128.9" x2="198.7" y2="127.9" stroke="#4a6ae0" stroke-width="0.70"/>
<line x1="197.0" y1="128.9" x2="197.4" y2="130.9" stroke="#4a6ae0" stroke-width="0.70"/>
<line x1="197.4" y1="130.9" x2="199.4" y2="130.3" stroke="#2540b4" stroke-width="0.70"/>
<line x1="197.4" y1="130.9" x2="198.2" y2="133.4" stroke="#4a6ae0" stroke-width="0.70"/>
<line x1="198.2" y1="133.4" x2="200.2" y2="132.5" stroke="#1f36a8" stroke-width="0.70"/>
<line x1="198.9" y1="135.3" x2="200.9" y2="134.6" stroke="#1f36a8" stroke-width="0.70"/>
<line x1="198.9" y1="135.3" x2="199.3" y2="137.6" stroke="#1f36a8" stroke-width="0.70"/>
<line x1="199.3" y1="137.6" x2="201.6" y2="136.9" stroke="#4a6ae0" stroke-width="0.70"/>
<line x1="199.3" y1="137.6" x2="200.1" y2="139.8" stroke="#4a6ae0" stroke-width="0.70"/>
<line x1="200.1" y1="139.8" x2="202.2" y2="139.0" stroke="#2a44bc" stroke-width="0.70"/>
<line x1="200.1" y1="139.8" x2="200.7" y2="142.3" stroke="#4a6ae0" stroke-width="0.70"/>
<line x1="200.7" y1="142.3" x2="202.8" y2="141.2" stroke="#4a6ae0" stroke-width="0.70"/>
<line x1="195.5" y1="116.8" x2="196.3" y2="119.1" stroke="#2540b4" stroke-width="0.70"/>
<line x1="196.3" y1="119.1" x2="198.2" y2="118.5" stroke="#2a44bc" stroke-width="0.70"/>
<line x1="196.3" y1="119.1" x2="196.8" y2="121.5" stroke="#4a6ae0" stroke-width="0.70"/>
<line x1="196.8" y1="121.5" x2="199.1" y2="120.7" stroke="#2540b4" stroke-width="0.70"/>
<line x1="196.8" y1="121.5" x2="197.8" y2="123.7" stroke="#1f36a8" stroke-width="0.70"/>
<line x1="197.8" y1="123.7" x2="198.2" y2="126.0" stroke="#2a44bc" stroke-width="0.70"/>
<line x1="198.2" y1="126.0" x2="200.4" y2="125.2" stroke="#1f36a8" stroke-width="0.70"/>
<line x1="198.7" y1="127.9" x2="200.8" y2="127.5" stroke="#1f36a8" stroke-width="0.70"/>
<line x1="198.7" y1="127.9" x2="199.4" y2="130.3" stroke="#2540b4" stroke-width="0.70"/>
<line x1="199.4" y1="130.3" x2="201.8" y2="129.6" stroke="#4a6ae0" stroke-width="0.70"/>
<line x1="199.4" y1="130.3" x2="200.2" y2="132.5" stroke="#1f36a8" stroke-width="0.70"/>
<line x1="200.2" y1="132.5" x2="202.4" y2="131.7" stroke="#4a6ae0" stroke-width="0.70"/>
<line x1="200.9" y1="134.6" x2="203.0" y2="133.8" stroke="#2a44bc" stroke-width="0.70"/>
<line x1="200.9" y1="134.6" x2="201.6" y2="136.9" stroke="#2a44bc" stroke-width="0.70"/>
<line x1="201.6" y1="136.9" x2="203.4" y2="136.2" stroke="#2a44bc" stroke-width="0.70"/>
<line x1="201.6" y1="136.9" x2="202.2" y2="139.0" stroke="#2a44bc" stroke-width="0.70"/>
<line x1="202.2" y1="139.0" x2="202.8" y2="141.2" stroke="#1f36a8" stroke-width="0.70"/>
<line x1="198.2" y1="118.5" x2="200.3" y2="117.7" stroke="#4a6ae0" stroke-width="0.70"/>
<line x1="198.2" y1="118.5" x2="199.1" y2="120.7" stroke="#4a6ae0" stroke-width="0.70"/>
<line x1="199.1" y1="120.7" x2="199.6" y2="122.9" stroke="#1f36a8" stroke-width="0.70"/>
<line x1="199.6" y1="122.9" x2="201.8" y2="122.0" stroke="#2a44bc" stroke-width="0.70"/>
<line x1="200.4" y1="125.2" x2="202.6" y2="124.5" stroke="#1f36a8" stroke-width="0.70"/>
<line x1="200.4" y1="125.2" x2="200.8" y2="127.5" stroke="#2a44bc" stroke-width="0.70"/>
<line x1="200.8" y1="127.5" x2="202.9" y2="126.6" stroke="#2a44bc" stroke-width="0.70"/>
<line x1="201.8" y1="129.6" x2="203.8" y2="128.7" stroke="#1f36a8" stroke-width="0.70"/>
<line x1="201.8" y1="129.6" x2="202.4" y2="131.7" stroke="#4a6ae0" stroke-width="0.70"/>
<line x1="202.4" y1="131.7" x2="204.2" y2="131.2" stroke="#4a6ae0" stroke-width="0.70"/>
<line x1="202.4" y1="131.7" x2="203.0" y2="133.8" stroke="#2540b4" stroke-width="0.70"/>
<line x1="203.0" y1="133.8" x2="203.4" y2="136.2" stroke="#1f36a8" stroke-width="0.70"/>
<line x1="200.3" y1="117.7" x2="201.2" y2="120.0" stroke="#1f36a8" stroke-width="0.70"/>
<line x1="201.2" y1="120.0" x2="201.8" y2="122.0" stroke="#2a44bc" stroke-width="0.70"/>
<line x1="201.8" y1="122.0" x2="203.6" y2="121.5" stroke="#4a6ae0" stroke-width="0.70"/>
<line x1="201.8" y1="122.0" x2="202.6" y2="124.5" stroke="#2540b4" stroke-width="0.70"/>
<line x1="202.6" y1="124.5" x2="202.9" y2="126.6" stroke="#2540b4" stroke-width="0.70"/>
<line x1="202.9" y1="126.6" x2="205.1" y2="125.9" stroke="#1f36a8" stroke-width="0.70"/>
<line x1="202.9" y1="126.6" x2="203.8" y2="128.7" stroke="#2a44bc" stroke-width="0.70"/>
<line x1="203.8" y1="128.7" x2="204.2" y2="131.2" stroke="#1f36a8" stroke-width="0.70"/>
<line x1="204.2" y1="131.2" x2="206.2" y2="130.2" stroke="#4a6ae0" stroke-width="0.70"/>
<line x1="203.6" y1="121.5" x2="204.3" y2="123.5" stroke="#2a44bc" stroke-width="0.70"/>
<line x1="204.3" y1="123.5" x2="206.7" y2="122.9" stroke="#1f36a8" stroke-width="0.70"/>
<line x1="204.3" y1="123.5" x2="205.1" y2="125.9" stroke="#1f36a8" stroke-width="0.70"/>
<line x1="205.1" y1="125.9" x2="207.0" y2="125.2" stroke="#1f36a8" stroke-width="0.70"/>
<line x1="205.1" y1="125.9" x2="205.8" y2="128.2" stroke="#2a44bc" stroke-width="0.70"/>
<line x1="205.8" y1="128.2" x2="207.8" y2="127.5" stroke="#2a44bc" stroke-width="0.70"/>
<line x1="205.8" y1="128.2" x2="206.2" y2="130.2" stroke="#1f36a8" stroke-width="0.70"/>
<line x1="206.7" y1="122.9" x2="208.6" y2="122.2" stroke="#2540b4" stroke-width="0.70"/>
<line x1="206.7" y1="122.9" x2="207.0" y2="125.2" stroke="#1f36a8" stroke-width="0.70"/>
<line x1="207.0" y1="125.2" x2="209.1" y2="124.5" stroke="#4a6ae0" stroke-width="0.70"/>
<line x1="207.0" y1="125.2" x2="207.8" y2="127.5" stroke="#1f36a8" stroke-width="0.70"/>
<line x1="208.6" y1="122.2" x2="209.1" y2="124.5" stroke="#1f36a8" stroke-width="0.70"/>
<circle cx="178.2" cy="143.1" r="0.55" fill="#f6a12a"/>
<circle cx="178.3" cy="135.5" r="0.55" fill="#ffd84a"/>
<circle cx="178.9" cy="138.0" r="0.55" fill="#f0c030"/>
<circle cx="179.5" cy="139.9" r="0.55" fill="#f5b335"/>
<circle cx="180.6" cy="144.3" r="0.55" fill="#f6a12a"/>
<circle cx="180.8" cy="137.0" r="0.45" fill="#e8eefc"/>
<circle cx="182.8" cy="143.6" r="0.55" fill="#e8701a"/>
<circle cx="183.7" cy="138.4" r="0.55" fill="#f0c030"/>
<circle cx="184.9" cy="142.8" r="0.55" fill="#f5b335"/>
<circle cx="182.4" cy="126.5" r="0.45" fill="#e8eefc"/>
<circle cx="183.2" cy="128.9" r="0.55" fill="#f0c030"/>
<circle cx="185.8" cy="137.8" r="0.55" fill="#f5b335"/>
<circle cx="186.1" cy="139.9" r="0.55" fill="#e8701a"/>
<circle cx="187.6" cy="144.3" r="0.45" fill="#e8eefc"/>
<circle cx="183.8" cy="123.9" r="0.55" fill="#ffd84a"/>
<circle cx="184.4" cy="126.1" r="0.55" fill="#f5b335"/>
<circle cx="185.1" cy="128.0" r="0.55" fill="#f0c030"/>
<circle cx="185.9" cy="130.2" r="0.55" fill="#e8701a"/>
<circle cx="187.1" cy="134.8" r="0.55" fill="#e8701a"/>
<circle cx="187.6" cy="137.0" r="0.45" fill="#e8eefc"/>
<circle cx="188.2" cy="139.3" r="0.55" fill="#e8701a"/>
<circle cx="188.9" cy="141.5" r="0.55" fill="#f6a12a"/>
<circle cx="189.6" cy="143.6" r="0.45" fill="#e8eefc"/>
<circle cx="187.4" cy="127.5" r="0.55" fill="#f5b335"/>
<circle cx="188.1" cy="129.6" r="0.45" fill="#e8eefc"/>
<circle cx="189.4" cy="133.9" r="0.55" fill="#f5b335"/>
<circle cx="190.0" cy="136.4" r="0.55" fill="#ffd84a"/>
<circle cx="190.3" cy="138.6" r="0.55" fill="#e8701a"/>
<circle cx="191.0" cy="140.6" r="0.55" fill="#f6a12a"/>
<circle cx="189.4" cy="126.5" r="0.45" fill="#e8eefc"/>
<circle cx="189.9" cy="129.0" r="0.55" fill="#f5b335"/>
<circle cx="191.9" cy="135.5" r="0.55" fill="#e8701a"/>
<circle cx="194.5" cy="144.4" r="0.55" fill="#f0c030"/>
<circle cx="190.0" cy="121.6" r="0.55" fill="#f6a12a"/>
<circle cx="192.7" cy="130.5" r="0.55" fill="#f5b335"/>
<circle cx="194.5" cy="136.8" r="0.55" fill="#f6a12a"/>
<circle cx="195.3" cy="139.3" r="0.55" fill="#e8701a"/>
<circle cx="193.0" cy="123.1" r="0.55" fill="#ffd84a"/>
<circle cx="194.8" cy="129.6" r="0.55" fill="#e8701a"/>
<circle cx="195.3" cy="131.7" r="0.55" fill="#f0c030"/>
<circle cx="196.7" cy="136.4" r="0.45" fill="#e8eefc"/>
<circle cx="197.5" cy="138.4" r="0.55" fill="#f0c030"/>
<circle cx="198.7" cy="143.0" r="0.55" fill="#f6a12a"/>
<circle cx="196.1" cy="126.5" r="0.55" fill="#f5b335"/>
<circle cx="197.0" cy="128.9" r="0.55" fill="#f6a12a"/>
<circle cx="197.4" cy="130.9" r="0.55" fill="#f6a12a"/>
<circle cx="198.9" cy="135.3" r="0.55" fill="#ffd84a"/>
<circle cx="200.1" cy="139.8" r="0.55" fill="#e8701a"/>
<circle cx="197.8" cy="123.7" r="0.55" fill="#f0c030"/>
<circle cx="198.2" cy="126.0" r="0.55" fill="#ffd84a"/>
<circle cx="198.7" cy="127.9" r="0.55" fill="#e8701a"/>
<circle cx="201.6" cy="136.9" r="0.55" fill="#f6a12a"/>
<circle cx="199.6" cy="122.9" r="0.45" fill="#e8eefc"/>
<circle cx="200.4" cy="125.2" r="0.55" fill="#e8701a"/>
<circle cx="202.4" cy="131.7" r="0.55" fill="#f5b335"/>
<circle cx="203.4" cy="136.2" r="0.55" fill="#f5b335"/>
<circle cx="201.8" cy="122.0" r="0.55" fill="#e8701a"/>
<circle cx="206.7" cy="122.9" r="0.55" fill="#e8701a"/>
<circle cx="207.0" cy="125.2" r="0.55" fill="#ffd84a"/>
<circle cx="209.1" cy="124.5" r="0.55" fill="#f5b335"/>
<polygon points="173.5,146.2 176.6,142.2 182.0,143.8 188.0,144.2 194.0,143.0 199.0,141.5 203.0,140.2 201.8,145.6 197.5,149.6 190.0,150.6 183.0,150.2 176.0,149.6" fill="#b6ee3e" stroke="#c4f040" stroke-width="0.8" stroke-linejoin="round"/>
<circle cx="185.8" cy="147.2" r="1.60" fill="#26d8c8"/>
<circle cx="188.6" cy="147.8" r="1.30" fill="#30cce0"/>
<circle cx="192.5" cy="146.8" r="1.30" fill="#52ea7c"/>
<circle cx="197.5" cy="144.8" r="1.30" fill="#78f068"/>
<circle cx="180.0" cy="147.5" r="1.20" fill="#9af050"/>
<circle cx="176.0" cy="147.6" r="1.00" fill="#e0ea3a"/>
<line x1="175.7" y1="145.2" x2="177.9" y2="144.4" stroke="#3550c8" stroke-width="0.60"/>
<line x1="175.7" y1="145.2" x2="176.1" y2="147.4" stroke="#2a44bc" stroke-width="0.60"/>
<line x1="177.9" y1="144.4" x2="180.2" y2="143.6" stroke="#2a44bc" stroke-width="0.60"/>
<line x1="177.9" y1="144.4" x2="178.6" y2="146.9" stroke="#3550c8" stroke-width="0.60"/>
<line x1="178.6" y1="146.9" x2="180.7" y2="146.0" stroke="#3550c8" stroke-width="0.60"/>
<line x1="178.6" y1="146.9" x2="179.2" y2="149.2" stroke="#3550c8" stroke-width="0.60"/>
<line x1="180.2" y1="143.6" x2="180.7" y2="146.0" stroke="#3550c8" stroke-width="0.60"/>
<line x1="180.7" y1="146.0" x2="183.2" y2="145.0" stroke="#3550c8" stroke-width="0.60"/>
<line x1="180.7" y1="146.0" x2="181.3" y2="148.2" stroke="#3550c8" stroke-width="0.60"/>
<line x1="183.2" y1="145.0" x2="185.4" y2="144.3" stroke="#2a44bc" stroke-width="0.60"/>
<line x1="183.2" y1="145.0" x2="183.7" y2="147.3" stroke="#3550c8" stroke-width="0.60"/>
<line x1="183.7" y1="147.3" x2="185.9" y2="146.5" stroke="#3550c8" stroke-width="0.60"/>
<line x1="183.7" y1="147.3" x2="184.3" y2="149.6" stroke="#3550c8" stroke-width="0.60"/>
<line x1="184.3" y1="149.6" x2="186.6" y2="149.0" stroke="#2a44bc" stroke-width="0.60"/>
<line x1="185.4" y1="144.3" x2="185.9" y2="146.5" stroke="#3550c8" stroke-width="0.60"/>
<line x1="185.9" y1="146.5" x2="188.3" y2="145.7" stroke="#2a44bc" stroke-width="0.60"/>
<line x1="185.9" y1="146.5" x2="186.6" y2="149.0" stroke="#3550c8" stroke-width="0.60"/>
<line x1="186.6" y1="149.0" x2="188.7" y2="148.1" stroke="#2a44bc" stroke-width="0.60"/>
<line x1="188.3" y1="145.7" x2="188.7" y2="148.1" stroke="#2a44bc" stroke-width="0.60"/>
<line x1="188.7" y1="148.1" x2="191.2" y2="147.2" stroke="#3550c8" stroke-width="0.60"/>
<line x1="188.7" y1="148.1" x2="189.6" y2="150.5" stroke="#2a44bc" stroke-width="0.60"/>
<line x1="189.6" y1="150.5" x2="191.9" y2="149.6" stroke="#2a44bc" stroke-width="0.60"/>
<line x1="190.6" y1="145.1" x2="191.2" y2="147.2" stroke="#3550c8" stroke-width="0.60"/>
<line x1="191.2" y1="147.2" x2="193.3" y2="146.4" stroke="#3550c8" stroke-width="0.60"/>
<line x1="191.2" y1="147.2" x2="191.9" y2="149.6" stroke="#2a44bc" stroke-width="0.60"/>
<line x1="191.9" y1="149.6" x2="194.0" y2="148.9" stroke="#2a44bc" stroke-width="0.60"/>
<line x1="192.8" y1="144.3" x2="193.3" y2="146.4" stroke="#2a44bc" stroke-width="0.60"/>
<line x1="193.3" y1="146.4" x2="195.7" y2="145.8" stroke="#3550c8" stroke-width="0.60"/>
<line x1="193.3" y1="146.4" x2="194.0" y2="148.9" stroke="#2a44bc" stroke-width="0.60"/>
<line x1="194.0" y1="148.9" x2="196.2" y2="147.9" stroke="#3550c8" stroke-width="0.60"/>
<line x1="195.0" y1="143.5" x2="197.0" y2="142.6" stroke="#2a44bc" stroke-width="0.60"/>
<line x1="195.0" y1="143.5" x2="195.7" y2="145.8" stroke="#3550c8" stroke-width="0.60"/>
<line x1="195.7" y1="145.8" x2="197.8" y2="144.7" stroke="#3550c8" stroke-width="0.60"/>
<line x1="195.7" y1="145.8" x2="196.2" y2="147.9" stroke="#2a44bc" stroke-width="0.60"/>
<line x1="196.2" y1="147.9" x2="198.4" y2="147.0" stroke="#2a44bc" stroke-width="0.60"/>
<line x1="197.0" y1="142.6" x2="199.6" y2="141.6" stroke="#2a44bc" stroke-width="0.60"/>
<line x1="197.0" y1="142.6" x2="197.8" y2="144.7" stroke="#2a44bc" stroke-width="0.60"/>
<line x1="197.8" y1="144.7" x2="200.1" y2="144.0" stroke="#2a44bc" stroke-width="0.60"/>
<line x1="197.8" y1="144.7" x2="198.4" y2="147.0" stroke="#2a44bc" stroke-width="0.60"/>
<line x1="198.4" y1="147.0" x2="200.8" y2="146.2" stroke="#2a44bc" stroke-width="0.60"/>
<line x1="199.6" y1="141.6" x2="201.8" y2="141.0" stroke="#2a44bc" stroke-width="0.60"/>
<line x1="199.6" y1="141.6" x2="200.1" y2="144.0" stroke="#2a44bc" stroke-width="0.60"/>
<line x1="200.1" y1="144.0" x2="200.8" y2="146.2" stroke="#3550c8" stroke-width="0.60"/>
<polyline points="177.5,113.0 181.0,111.3 185.0,109.5 189.0,107.3 193.0,105.2 195.5,104.6" fill="none" stroke="#dd4417" stroke-width="2.9" stroke-linecap="round" stroke-linejoin="round"/>
<polyline points="176.5,118.0 180.0,116.5 184.0,114.8 188.0,113.0 192.0,111.0 196.0,109.2" fill="none" stroke="#dd4417" stroke-width="2.9" stroke-linecap="round" stroke-linejoin="round"/>
<polyline points="178.0,122.0 182.0,120.5 186.0,118.8 190.0,117.0 194.0,115.0 197.5,113.2" fill="none" stroke="#dd4417" stroke-width="2.9" stroke-linecap="round" stroke-linejoin="round"/>
<polyline points="180.0,126.0 184.0,124.5 188.0,122.8 192.0,121.0 195.0,119.5" fill="none" stroke="#dd4417" stroke-width="2.9" stroke-linecap="round" stroke-linejoin="round"/>
<polyline points="177.5,113.0 176.5,118.0 178.0,122.0 180.0,126.0 181.5,129.0" fill="none" stroke="#dd4417" stroke-width="2.9" stroke-linecap="round" stroke-linejoin="round"/>
<polyline points="195.5,104.6 196.0,109.2 197.5,113.2" fill="none" stroke="#dd4417" stroke-width="2.9" stroke-linecap="round" stroke-linejoin="round"/>
<polyline points="181.0,111.3 180.0,116.5" fill="none" stroke="#dd4417" stroke-width="2.9" stroke-linecap="round" stroke-linejoin="round"/>
<polyline points="185.0,109.5 184.0,114.8" fill="none" stroke="#dd4417" stroke-width="2.9" stroke-linecap="round" stroke-linejoin="round"/>
<polyline points="189.0,107.3 188.0,113.0" fill="none" stroke="#dd4417" stroke-width="2.9" stroke-linecap="round" stroke-linejoin="round"/>
<polyline points="193.0,105.2 192.0,111.0" fill="none" stroke="#dd4417" stroke-width="2.9" stroke-linecap="round" stroke-linejoin="round"/>
<polyline points="182.0,120.5 180.5,116.5" fill="none" stroke="#dd4417" stroke-width="2.9" stroke-linecap="round" stroke-linejoin="round"/>
<polyline points="186.0,118.8 185.0,114.8" fill="none" stroke="#dd4417" stroke-width="2.9" stroke-linecap="round" stroke-linejoin="round"/>
<polyline points="190.0,117.0 189.0,113.0" fill="none" stroke="#dd4417" stroke-width="2.9" stroke-linecap="round" stroke-linejoin="round"/>
<polyline points="194.0,115.0 193.0,111.0" fill="none" stroke="#dd4417" stroke-width="2.9" stroke-linecap="round" stroke-linejoin="round"/>
<polyline points="184.0,124.5 182.0,120.5" fill="none" stroke="#dd4417" stroke-width="2.9" stroke-linecap="round" stroke-linejoin="round"/>
<polyline points="188.0,122.8 186.5,118.8" fill="none" stroke="#dd4417" stroke-width="2.9" stroke-linecap="round" stroke-linejoin="round"/>
<polyline points="192.0,121.0 190.5,117.0" fill="none" stroke="#dd4417" stroke-width="2.9" stroke-linecap="round" stroke-linejoin="round"/>
<polyline points="192.3,100.4 193.0,105.0" fill="none" stroke="#dd4417" stroke-width="2.9" stroke-linecap="round" stroke-linejoin="round"/>
<polyline points="177.5,113.0 181.0,111.3 185.0,109.5 189.0,107.3 193.0,105.2 195.5,104.6" fill="none" stroke="#4a6ce0" stroke-width="1.35" stroke-linecap="round" stroke-linejoin="round"/>
<polyline points="176.5,118.0 180.0,116.5 184.0,114.8 188.0,113.0 192.0,111.0 196.0,109.2" fill="none" stroke="#4a6ce0" stroke-width="1.35" stroke-linecap="round" stroke-linejoin="round"/>
<polyline points="178.0,122.0 182.0,120.5 186.0,118.8 190.0,117.0 194.0,115.0 197.5,113.2" fill="none" stroke="#4a6ce0" stroke-width="1.35" stroke-linecap="round" stroke-linejoin="round"/>
<polyline points="180.0,126.0 184.0,124.5 188.0,122.8 192.0,121.0 195.0,119.5" fill="none" stroke="#4a6ce0" stroke-width="1.35" stroke-linecap="round" stroke-linejoin="round"/>
<polyline points="177.5,113.0 176.5,118.0 178.0,122.0 180.0,126.0 181.5,129.0" fill="none" stroke="#4a6ce0" stroke-width="1.35" stroke-linecap="round" stroke-linejoin="round"/>
<polyline points="195.5,104.6 196.0,109.2 197.5,113.2" fill="none" stroke="#4a6ce0" stroke-width="1.35" stroke-linecap="round" stroke-linejoin="round"/>
<polyline points="181.0,111.3 180.0,116.5" fill="none" stroke="#4a6ce0" stroke-width="1.35" stroke-linecap="round" stroke-linejoin="round"/>
<polyline points="185.0,109.5 184.0,114.8" fill="none" stroke="#4a6ce0" stroke-width="1.35" stroke-linecap="round" stroke-linejoin="round"/>
<polyline points="189.0,107.3 188.0,113.0" fill="none" stroke="#4a6ce0" stroke-width="1.35" stroke-linecap="round" stroke-linejoin="round"/>
<polyline points="193.0,105.2 192.0,111.0" fill="none" stroke="#4a6ce0" stroke-width="1.35" stroke-linecap="round" stroke-linejoin="round"/>
<polyline points="182.0,120.5 180.5,116.5" fill="none" stroke="#4a6ce0" stroke-width="1.35" stroke-linecap="round" stroke-linejoin="round"/>
<polyline points="186.0,118.8 185.0,114.8" fill="none" stroke="#4a6ce0" stroke-width="1.35" stroke-linecap="round" stroke-linejoin="round"/>
<polyline points="190.0,117.0 189.0,113.0" fill="none" stroke="#4a6ce0" stroke-width="1.35" stroke-linecap="round" stroke-linejoin="round"/>
<polyline points="194.0,115.0 193.0,111.0" fill="none" stroke="#4a6ce0" stroke-width="1.35" stroke-linecap="round" stroke-linejoin="round"/>
<polyline points="184.0,124.5 182.0,120.5" fill="none" stroke="#4a6ce0" stroke-width="1.35" stroke-linecap="round" stroke-linejoin="round"/>
<polyline points="188.0,122.8 186.5,118.8" fill="none" stroke="#4a6ce0" stroke-width="1.35" stroke-linecap="round" stroke-linejoin="round"/>
<polyline points="192.0,121.0 190.5,117.0" fill="none" stroke="#4a6ce0" stroke-width="1.35" stroke-linecap="round" stroke-linejoin="round"/>
<polyline points="192.3,100.4 193.0,105.0" fill="none" stroke="#4a6ce0" stroke-width="1.35" stroke-linecap="round" stroke-linejoin="round"/>
<circle cx="193.4" cy="105.1" r="0.50" fill="#3050c8"/>
<circle cx="177.9" cy="121.7" r="0.50" fill="#3050c8"/>
<circle cx="193.3" cy="115.4" r="0.50" fill="#3050c8"/>
<circle cx="189.2" cy="122.3" r="0.50" fill="#c02a0c"/>
<circle cx="191.6" cy="111.2" r="0.50" fill="#c02a0c"/>
<circle cx="185.8" cy="109.1" r="0.50" fill="#e85a20"/>
<circle cx="183.9" cy="119.7" r="0.50" fill="#c02a0c"/>
<circle cx="187.0" cy="123.2" r="0.50" fill="#e85a20"/>
<circle cx="177.1" cy="117.7" r="0.50" fill="#3050c8"/>
<circle cx="178.9" cy="112.3" r="0.50" fill="#c02a0c"/>
<circle cx="196.9" cy="113.5" r="0.50" fill="#e85a20"/>
<circle cx="180.5" cy="111.6" r="0.50" fill="#c02a0c"/>
<circle cx="194.0" cy="105.0" r="0.50" fill="#3050c8"/>
<circle cx="190.6" cy="111.7" r="0.50" fill="#e85a20"/>
<circle cx="190.7" cy="106.4" r="0.50" fill="#e85a20"/>
<circle cx="189.8" cy="112.1" r="0.50" fill="#e85a20"/>
<circle cx="188.2" cy="112.9" r="0.50" fill="#e85a20"/>
<circle cx="180.4" cy="126.8" r="0.50" fill="#3050c8"/>
<circle cx="193.5" cy="120.3" r="0.50" fill="#e85a20"/>
<circle cx="194.3" cy="109.9" r="0.50" fill="#c02a0c"/>
<circle cx="182.5" cy="120.3" r="0.50" fill="#c02a0c"/>
<circle cx="180.3" cy="126.7" r="0.50" fill="#c02a0c"/>
<circle cx="195.0" cy="104.7" r="0.50" fill="#c02a0c"/>
<circle cx="195.0" cy="104.7" r="0.50" fill="#c02a0c"/>
<circle cx="177.3" cy="120.1" r="0.50" fill="#e85a20"/>
<rect x="186.3" y="110.8" width="0.8" height="1.7" fill="#fdf4f0"/>
<rect x="188.3" y="109.9" width="0.8" height="1.7" fill="#fdf4f0"/>
<rect x="190.3" y="108.9" width="0.8" height="1.7" fill="#fdf4f0"/>
<rect x="192.2" y="107.9" width="0.8" height="1.7" fill="#fdf4f0"/>
<circle cx="183.0" cy="126.5" r="0.90" fill="#d84a18"/>
<circle cx="186.5" cy="125.0" r="0.90" fill="#e8601c"/>
<circle cx="190.0" cy="123.5" r="0.90" fill="#d84a18"/>
<circle cx="193.5" cy="121.0" r="0.90" fill="#e8601c"/>
<circle cx="181.0" cy="129.5" r="0.90" fill="#f08a20"/>
<circle cx="179.5" cy="133.0" r="0.90" fill="#f08a20"/>
<circle cx="199.5" cy="113.0" r="2.05" fill="#f7f8ff" stroke="#4a6ae0" stroke-width="0.45"/>
<circle cx="203.4" cy="112.7" r="2.05" fill="#f7f8ff" stroke="#4a6ae0" stroke-width="0.45"/>
<circle cx="207.2" cy="114.4" r="2.05" fill="#f7f8ff" stroke="#4a6ae0" stroke-width="0.45"/>
<circle cx="210.6" cy="116.5" r="2.05" fill="#f7f8ff" stroke="#4a6ae0" stroke-width="0.45"/>
<circle cx="201.2" cy="117.3" r="2.05" fill="#f7f8ff" stroke="#4a6ae0" stroke-width="0.45"/>
<circle cx="205.0" cy="117.1" r="2.05" fill="#f7f8ff" stroke="#4a6ae0" stroke-width="0.45"/>
<circle cx="208.8" cy="119.7" r="2.05" fill="#f7f8ff" stroke="#4a6ae0" stroke-width="0.45"/>
<circle cx="211.8" cy="121.6" r="2.05" fill="#f7f8ff" stroke="#4a6ae0" stroke-width="0.45"/>
<circle cx="199.4" cy="121.1" r="2.05" fill="#f7f8ff" stroke="#4a6ae0" stroke-width="0.45"/>
<circle cx="203.2" cy="121.6" r="2.05" fill="#f7f8ff" stroke="#4a6ae0" stroke-width="0.45"/>
<circle cx="207.0" cy="122.7" r="2.05" fill="#f7f8ff" stroke="#4a6ae0" stroke-width="0.45"/>
<circle cx="210.4" cy="125.2" r="2.05" fill="#f7f8ff" stroke="#4a6ae0" stroke-width="0.45"/>
<circle cx="205.2" cy="126.3" r="2.05" fill="#f7f8ff" stroke="#4a6ae0" stroke-width="0.45"/>
<line x1="202.2" y1="116.3" x2="201.2" y2="118.0" stroke="#3552cc" stroke-width="0.50"/>
<line x1="203.8" y1="112.8" x2="202.1" y2="114.6" stroke="#3552cc" stroke-width="0.50"/>
<line x1="211.1" y1="124.4" x2="212.8" y2="122.9" stroke="#3552cc" stroke-width="0.50"/>
<line x1="200.4" y1="122.1" x2="202.3" y2="121.9" stroke="#3552cc" stroke-width="0.50"/>
<line x1="209.9" y1="125.3" x2="208.4" y2="126.7" stroke="#3552cc" stroke-width="0.50"/>
<line x1="206.6" y1="112.9" x2="208.2" y2="114.0" stroke="#3552cc" stroke-width="0.50"/>
<line x1="203.1" y1="119.5" x2="203.3" y2="119.0" stroke="#3552cc" stroke-width="0.50"/>
<line x1="208.5" y1="122.4" x2="206.7" y2="122.4" stroke="#3552cc" stroke-width="0.50"/>
<line x1="206.5" y1="117.4" x2="207.2" y2="117.4" stroke="#3552cc" stroke-width="0.50"/>
<line x1="211.1" y1="116.2" x2="211.9" y2="117.5" stroke="#3552cc" stroke-width="0.50"/>
<line x1="207.3" y1="123.6" x2="205.3" y2="122.4" stroke="#3552cc" stroke-width="0.50"/>
<line x1="201.3" y1="115.6" x2="200.8" y2="114.5" stroke="#3552cc" stroke-width="0.50"/>
<line x1="199.3" y1="114.0" x2="198.6" y2="113.2" stroke="#3552cc" stroke-width="0.50"/>
<line x1="208.1" y1="120.2" x2="206.9" y2="119.5" stroke="#3552cc" stroke-width="0.50"/>
<circle cx="180.6" cy="138.6" r="3.8" fill="#f4f6fc" fill-opacity="0.9" stroke="#7f9de6" stroke-width="0.45"/>
<circle cx="202.6" cy="131.6" r="3.2" fill="#f4f6fc" fill-opacity="0.9" stroke="#7f9de6" stroke-width="0.45"/>
<polyline points="178.4,141.2 180.4,136.2 182.4,141.2 M179.4,139.2 181.9,139.2 M201.1,129.3 202.6,133.3 204.1,129.3" fill="none" stroke="#3550c8" stroke-width="0.6"/>
<polyline points="213.2,119 214,123 212.2,127 208.5,130" fill="none" stroke="#f08a20" stroke-width="0.7" stroke-linecap="round"/>
<polyline points="151.0,141.6 155.5,147.6" fill="none" stroke="#f5a623" stroke-width="2.0" stroke-linecap="round" stroke-linejoin="round"/>
<polyline points="151.0,147.8 155.5,141.8" fill="none" stroke="#f5a623" stroke-width="2.0" stroke-linecap="round" stroke-linejoin="round"/>
<polyline points="155.5,144.6 158.5,143.2 162.0,142.8 165.5,143.2 167.2,145.2 165.5,147.0 162.0,146.8 158.5,146.6 155.5,144.6" fill="none" stroke="#f2c53a" stroke-width="2.0" stroke-linecap="round" stroke-linejoin="round"/>
<polyline points="151.5,142.2 155.2,147.2 M151.5,147.3 155.2,142.2 M155.5,144.6 158.5,143.6 162,143.4 165.5,143.7 166.6,145.2 165.5,146.4 162,146.2 158.5,146.1 155.5,144.6 M158,144.8 166,145" fill="none" stroke="#2c40b0" stroke-width="0.65"/>
<circle cx="161.6" cy="142.6" r="3.60" fill="none" stroke="#9fb4e6" stroke-width="0.45"/>
<path d="M158.3 141.2 A3.6 3.6 0 0 1 164.9 141.2" fill="#f7f8fc" stroke="none"/>
<line x1="167.5" y1="146.2" x2="174.5" y2="146.4" stroke="#5c6cc8" stroke-width="0.45"/>
<circle cx="186.0" cy="152.3" r="1.60" fill="#3d84f2" stroke="#3262dc" stroke-width="0.45"/>
<circle cx="190.9" cy="152.7" r="1.60" fill="#3d84f2" stroke="#3262dc" stroke-width="0.45"/>
<circle cx="188.3" cy="155.5" r="1.70" fill="#3d84f2" stroke="#3262dc" stroke-width="0.45"/>
<circle cx="192.5" cy="156.2" r="1.60" fill="#3d84f2" stroke="#3262dc" stroke-width="0.45"/>
<circle cx="194.6" cy="158.4" r="1.50" fill="#3d84f2" stroke="#3262dc" stroke-width="0.45"/>
<circle cx="187.3" cy="158.8" r="1.70" fill="#3d84f2" stroke="#3262dc" stroke-width="0.45"/>
<circle cx="190.5" cy="159.8" r="1.80" fill="#3d84f2" stroke="#3262dc" stroke-width="0.45"/>
<circle cx="185.4" cy="162.2" r="1.60" fill="#3d84f2" stroke="#3262dc" stroke-width="0.45"/>
<circle cx="189.2" cy="163.0" r="1.70" fill="#3d84f2" stroke="#3262dc" stroke-width="0.45"/>
<circle cx="193.4" cy="162.0" r="1.50" fill="#3d84f2" stroke="#3262dc" stroke-width="0.45"/>
<circle cx="184.4" cy="166.0" r="1.50" fill="#3d84f2" stroke="#3262dc" stroke-width="0.45"/>
<circle cx="191.3" cy="166.6" r="1.60" fill="#3d84f2" stroke="#3262dc" stroke-width="0.45"/>
<circle cx="187.8" cy="166.8" r="1.30" fill="#3d84f2" stroke="#3262dc" stroke-width="0.45"/>
<polyline points="186.0,152.3 188.3,155.5 187.3,158.8 185.4,162.2 184.4,166.0" fill="none" stroke="#2948c0" stroke-width="0.45"/>
<polyline points="190.9,152.7 192.5,156.2 190.5,159.8 189.2,163.0 191.3,166.6" fill="none" stroke="#2948c0" stroke-width="0.45"/>
<polyline points="188.3,155.5 192.5,156.2 194.6,158.4" fill="none" stroke="#2948c0" stroke-width="0.45"/>
<polyline points="187.3,158.8 190.5,159.8 193.4,162.0" fill="none" stroke="#2948c0" stroke-width="0.45"/>
<circle cx="188.8" cy="157.5" r="0.70" fill="#7fb6ff"/>
<circle cx="190.2" cy="161.5" r="0.70" fill="#7fb6ff"/>
<circle cx="187.5" cy="154.0" r="0.70" fill="#7fb6ff"/>
<circle cx="191.8" cy="157.8" r="0.70" fill="#7fb6ff"/>
<line x1="184.4" y1="167.0" x2="184.0" y2="176.0" stroke="#3a3f80" stroke-width="0.45"/>
<ellipse cx="183.3" cy="177.9" rx="1.8" ry="2.2" fill="#2a1f5a" stroke="#1a1440" stroke-width="0.4"/>
<circle cx="183.6" cy="178.1" r="0.50" fill="#6a78c8"/>
</g>
<rect x="81.1" y="53.5" width="24.1" height="47.3" fill="#fff"/>
<rect x="84.8" y="59.1" width="5.6" height="2.6" fill="#f7a600"/>
<rect x="86.2" y="66.2" width="2.2" height="2.2" fill="none" stroke="#555" stroke-width="0.45"/>
<circle cx="87.5" cy="74.5" r="1.25" fill="#de1212"/>
<circle cx="87.5" cy="81.5" r="1.25" fill="#e6340e"/>
<circle cx="87.5" cy="88.4" r="1.10" fill="#fff" stroke="#a0b8e0" stroke-width="0.45"/>
<line x1="85.1" y1="95.3" x2="89.9" y2="95.3" stroke="#6c70b0" stroke-width="0.55"/>
<text x="91.7" y="61.5" font-size="3.55" fill="#555" font-family="Liberation Sans">valves</text>
<text x="91.7" y="68.5" font-size="3.55" fill="#555" font-family="Liberation Sans">tanks</text>
<text x="91.7" y="75.7" font-size="3.55" fill="#555" font-family="Liberation Sans">pos1</text>
<text x="91.7" y="82.7" font-size="3.55" fill="#555" font-family="Liberation Sans">pos2</text>
<text x="91.7" y="89.7" font-size="3.55" fill="#555" font-family="Liberation Sans">nodes</text>
<text x="91.7" y="96.5" font-size="3.55" fill="#555" font-family="Liberation Sans">links</text>
<rect x="233.5" y="213.6" width="48.2" height="3.6" fill="#fff" fill-opacity="0.55"/>
<text x="281.2" y="216.4" font-size="2.5" fill="#333" text-anchor="end" font-family="Liberation Sans">© OpenStreetMap contributors © CartoDB</text>
<line x1="79.5" y1="51" x2="79.5" y2="220" stroke="#444" stroke-width="0.4"/>
<line x1="79.3" y1="219.8" x2="281.7" y2="219.8" stroke="#444" stroke-width="0.4"/>
<line x1="77.7" y1="79.0" x2="79.5" y2="79.0" stroke="#444" stroke-width="0.45"/>
<text x="76.2" y="80.6" font-size="2.7" fill="#555" text-anchor="end" font-family="Liberation Sans">38.67</text>
<line x1="77.7" y1="117.0" x2="79.5" y2="117.0" stroke="#444" stroke-width="0.45"/>
<text x="76.2" y="118.6" font-size="2.7" fill="#555" text-anchor="end" font-family="Liberation Sans">38.66</text>
<line x1="77.7" y1="155.0" x2="79.5" y2="155.0" stroke="#444" stroke-width="0.45"/>
<text x="76.2" y="156.6" font-size="2.7" fill="#555" text-anchor="end" font-family="Liberation Sans">38.65</text>
<line x1="77.7" y1="193.0" x2="79.5" y2="193.0" stroke="#444" stroke-width="0.45"/>
<text x="76.2" y="194.6" font-size="2.7" fill="#555" text-anchor="end" font-family="Liberation Sans">38.64</text>
<line x1="78.6" y1="63.8" x2="79.5" y2="63.8" stroke="#555" stroke-width="0.35"/>
<line x1="78.6" y1="71.4" x2="79.5" y2="71.4" stroke="#555" stroke-width="0.35"/>
<line x1="78.6" y1="86.6" x2="79.5" y2="86.6" stroke="#555" stroke-width="0.35"/>
<line x1="78.6" y1="94.2" x2="79.5" y2="94.2" stroke="#555" stroke-width="0.35"/>
<line x1="78.6" y1="101.8" x2="79.5" y2="101.8" stroke="#555" stroke-width="0.35"/>
<line x1="78.6" y1="109.4" x2="79.5" y2="109.4" stroke="#555" stroke-width="0.35"/>
<line x1="78.6" y1="124.6" x2="79.5" y2="124.6" stroke="#555" stroke-width="0.35"/>
<line x1="78.6" y1="132.2" x2="79.5" y2="132.2" stroke="#555" stroke-width="0.35"/>
<line x1="78.6" y1="139.8" x2="79.5" y2="139.8" stroke="#555" stroke-width="0.35"/>
<line x1="78.6" y1="147.4" x2="79.5" y2="147.4" stroke="#555" stroke-width="0.35"/>
<line x1="78.6" y1="162.6" x2="79.5" y2="162.6" stroke="#555" stroke-width="0.35"/>
<line x1="78.6" y1="170.2" x2="79.5" y2="170.2" stroke="#555" stroke-width="0.35"/>
<line x1="78.6" y1="177.8" x2="79.5" y2="177.8" stroke="#555" stroke-width="0.35"/>
<line x1="78.6" y1="185.4" x2="79.5" y2="185.4" stroke="#555" stroke-width="0.35"/>
<line x1="78.6" y1="200.6" x2="79.5" y2="200.6" stroke="#555" stroke-width="0.35"/>
<line x1="78.6" y1="208.2" x2="79.5" y2="208.2" stroke="#555" stroke-width="0.35"/>
<line x1="78.6" y1="215.8" x2="79.5" y2="215.8" stroke="#555" stroke-width="0.35"/>
<line x1="91.8" y1="219.8" x2="91.8" y2="221.5" stroke="#444" stroke-width="0.45"/>
<text x="91.8" y="226.2" font-size="2.7" fill="#555" text-anchor="middle" font-family="Liberation Sans">-9.09</text>
<line x1="118.7" y1="219.8" x2="118.7" y2="221.5" stroke="#444" stroke-width="0.45"/>
<text x="118.7" y="226.2" font-size="2.7" fill="#555" text-anchor="middle" font-family="Liberation Sans">-9.08</text>
<line x1="145.6" y1="219.8" x2="145.6" y2="221.5" stroke="#444" stroke-width="0.45"/>
<text x="145.6" y="226.2" font-size="2.7" fill="#555" text-anchor="middle" font-family="Liberation Sans">-9.07</text>
<line x1="172.5" y1="219.8" x2="172.5" y2="221.5" stroke="#444" stroke-width="0.45"/>
<text x="172.5" y="226.2" font-size="2.7" fill="#555" text-anchor="middle" font-family="Liberation Sans">-9.06</text>
<line x1="199.4" y1="219.8" x2="199.4" y2="221.5" stroke="#444" stroke-width="0.45"/>
<text x="199.4" y="226.2" font-size="2.7" fill="#555" text-anchor="middle" font-family="Liberation Sans">-9.05</text>
<line x1="226.2" y1="219.8" x2="226.2" y2="221.5" stroke="#444" stroke-width="0.45"/>
<text x="226.2" y="226.2" font-size="2.7" fill="#555" text-anchor="middle" font-family="Liberation Sans">-9.04</text>
<line x1="253.1" y1="219.8" x2="253.1" y2="221.5" stroke="#444" stroke-width="0.45"/>
<text x="253.1" y="226.2" font-size="2.7" fill="#555" text-anchor="middle" font-family="Liberation Sans">-9.03</text>
<line x1="280.0" y1="219.8" x2="280.0" y2="221.5" stroke="#444" stroke-width="0.45"/>
<text x="280.0" y="226.2" font-size="2.7" fill="#555" text-anchor="middle" font-family="Liberation Sans">-9.02</text>
<line x1="81.0" y1="219.8" x2="81.0" y2="220.8" stroke="#555" stroke-width="0.35"/>
<line x1="86.4" y1="219.8" x2="86.4" y2="220.8" stroke="#555" stroke-width="0.35"/>
<line x1="97.2" y1="219.8" x2="97.2" y2="220.8" stroke="#555" stroke-width="0.35"/>
<line x1="102.6" y1="219.8" x2="102.6" y2="220.8" stroke="#555" stroke-width="0.35"/>
<line x1="107.9" y1="219.8" x2="107.9" y2="220.8" stroke="#555" stroke-width="0.35"/>
<line x1="113.3" y1="219.8" x2="113.3" y2="220.8" stroke="#555" stroke-width="0.35"/>
<line x1="124.1" y1="219.8" x2="124.1" y2="220.8" stroke="#555" stroke-width="0.35"/>
<line x1="129.4" y1="219.8" x2="129.4" y2="220.8" stroke="#555" stroke-width="0.35"/>
<line x1="134.8" y1="219.8" x2="134.8" y2="220.8" stroke="#555" stroke-width="0.35"/>
<line x1="140.2" y1="219.8" x2="140.2" y2="220.8" stroke="#555" stroke-width="0.35"/>
<line x1="151.0" y1="219.8" x2="151.0" y2="220.8" stroke="#555" stroke-width="0.35"/>
<line x1="156.3" y1="219.8" x2="156.3" y2="220.8" stroke="#555" stroke-width="0.35"/>
<line x1="161.7" y1="219.8" x2="161.7" y2="220.8" stroke="#555" stroke-width="0.35"/>
<line x1="167.1" y1="219.8" x2="167.1" y2="220.8" stroke="#555" stroke-width="0.35"/>
<line x1="177.8" y1="219.8" x2="177.8" y2="220.8" stroke="#555" stroke-width="0.35"/>
<line x1="183.2" y1="219.8" x2="183.2" y2="220.8" stroke="#555" stroke-width="0.35"/>
<line x1="188.6" y1="219.8" x2="188.6" y2="220.8" stroke="#555" stroke-width="0.35"/>
<line x1="194.0" y1="219.8" x2="194.0" y2="220.8" stroke="#555" stroke-width="0.35"/>
<line x1="204.7" y1="219.8" x2="204.7" y2="220.8" stroke="#555" stroke-width="0.35"/>
<line x1="210.1" y1="219.8" x2="210.1" y2="220.8" stroke="#555" stroke-width="0.35"/>
<line x1="215.5" y1="219.8" x2="215.5" y2="220.8" stroke="#555" stroke-width="0.35"/>
<line x1="220.9" y1="219.8" x2="220.9" y2="220.8" stroke="#555" stroke-width="0.35"/>
<line x1="231.6" y1="219.8" x2="231.6" y2="220.8" stroke="#555" stroke-width="0.35"/>
<line x1="237.0" y1="219.8" x2="237.0" y2="220.8" stroke="#555" stroke-width="0.35"/>
<line x1="242.4" y1="219.8" x2="242.4" y2="220.8" stroke="#555" stroke-width="0.35"/>
<line x1="247.8" y1="219.8" x2="247.8" y2="220.8" stroke="#555" stroke-width="0.35"/>
<line x1="258.5" y1="219.8" x2="258.5" y2="220.8" stroke="#555" stroke-width="0.35"/>
<line x1="263.9" y1="219.8" x2="263.9" y2="220.8" stroke="#555" stroke-width="0.35"/>
<line x1="269.3" y1="219.8" x2="269.3" y2="220.8" stroke="#555" stroke-width="0.35"/>
<line x1="274.7" y1="219.8" x2="274.7" y2="220.8" stroke="#555" stroke-width="0.35"/>
<rect x="285" y="54" width="2.1" height="163.4" fill="url(#cb)"/>
<line x1="286.3" y1="62.6" x2="287.6" y2="62.6" stroke="#444" stroke-width="0.35"/>
<text x="288.6" y="64.0" font-size="2.7" fill="#555" font-family="Liberation Sans">0.025</text>
<text x="307.8" y="64.0" font-size="2.7" fill="#555" text-anchor="end" font-family="Liberation Sans">250</text>
<line x1="286.3" y1="93.4" x2="287.6" y2="93.4" stroke="#444" stroke-width="0.35"/>
<text x="288.6" y="94.8" font-size="2.7" fill="#555" font-family="Liberation Sans">0.02</text>
<text x="307.8" y="94.8" font-size="2.7" fill="#555" text-anchor="end" font-family="Liberation Sans">200</text>
<line x1="286.3" y1="124.2" x2="287.6" y2="124.2" stroke="#444" stroke-width="0.35"/>
<text x="288.6" y="125.6" font-size="2.7" fill="#555" font-family="Liberation Sans">0.015</text>
<text x="307.8" y="125.6" font-size="2.7" fill="#555" text-anchor="end" font-family="Liberation Sans">150</text>
<line x1="286.3" y1="155.0" x2="287.6" y2="155.0" stroke="#444" stroke-width="0.35"/>
<text x="288.6" y="156.4" font-size="2.7" fill="#555" font-family="Liberation Sans">0.01</text>
<text x="307.8" y="156.4" font-size="2.7" fill="#555" text-anchor="end" font-family="Liberation Sans">100</text>
<line x1="286.3" y1="185.8" x2="287.6" y2="185.8" stroke="#444" stroke-width="0.35"/>
<text x="288.6" y="187.2" font-size="2.7" fill="#555" font-family="Liberation Sans">0.005</text>
<text x="307.8" y="187.2" font-size="2.7" fill="#555" text-anchor="end" font-family="Liberation Sans">50</text>
<line x1="286.3" y1="216.6" x2="287.6" y2="216.6" stroke="#444" stroke-width="0.35"/>
<text x="288.6" y="218.0" font-size="2.7" fill="#555" font-family="Liberation Sans">0</text>
<text x="307.8" y="218.0" font-size="2.7" fill="#555" text-anchor="end" font-family="Liberation Sans">0</text>
</svg>

<!-- CHARTS -->
<svg class="a" style="left:0;top:0" width="550" height="287" viewBox="0 0 550 287">
<text x="320" y="57.3" font-size="3.92" fill="#333" font-family="Liberation Sans">Pareto Front</text>
<text x="320" y="150.1" font-size="3.94" fill="#333" font-family="Liberation Sans">Hypervolume</text>
<g stroke="#a2a2a2" stroke-width="0.6" fill="none">
<path d="M393.5 43.3v5M391 45.8h5"/>
<path d="M392.6 44.1l0.9-0.9 0.9 0.9M392.6 47.5l0.9 0.9 0.9-0.9M391.8 44.9l-0.9 0.9 0.9 0.9M395.2 44.9l0.9 0.9-0.9 0.9" stroke-width="0.4"/>
<path d="M400 47.5c0.5-2.5 2-3.5 4-3.3c1 0.1 0.5 1.6-0.4 1.8c-1.3 0.4-1.5 1.4-0.2 1.9"/>
<circle cx="410.7" cy="45.8" r="2.1"/><path d="M411.7 47.8l0.8 1"/>
<path d="M417.8 43.8h3.4v4.2h-3.4z M418.7 43.8v1.4h1.6v-1.4"/>
</g>
<line x1="397.6" y1="43.5" x2="397.6" y2="48.3" stroke="#ddd" stroke-width="0.3"/>
<line x1="406.3" y1="43.5" x2="406.3" y2="48.3" stroke="#ddd" stroke-width="0.3"/>
<line x1="415.3" y1="43.5" x2="415.3" y2="48.3" stroke="#ddd" stroke-width="0.3"/>
<line x1="388.9" y1="50.4" x2="397.6" y2="50.4" stroke="#58bcd8" stroke-width="0.65"/>
<line x1="406.4" y1="50.4" x2="423.8" y2="50.4" stroke="#58bcd8" stroke-width="0.65"/>
<line x1="320.7" y1="67.9" x2="422.0" y2="67.9" stroke="#e6e6e6" stroke-width="0.3" stroke-dasharray="0.8,0.5"/>
<line x1="320.7" y1="84.5" x2="422.0" y2="84.5" stroke="#e6e6e6" stroke-width="0.3" stroke-dasharray="0.8,0.5"/>
<line x1="320.7" y1="101.1" x2="422.0" y2="101.1" stroke="#e6e6e6" stroke-width="0.3" stroke-dasharray="0.8,0.5"/>
<line x1="320.7" y1="117.5" x2="422.0" y2="117.5" stroke="#e6e6e6" stroke-width="0.3" stroke-dasharray="0.8,0.5"/>
<line x1="320.7" y1="134.0" x2="422.0" y2="134.0" stroke="#e6e6e6" stroke-width="0.3" stroke-dasharray="0.8,0.5"/>
<line x1="327.0" y1="59.5" x2="327.0" y2="135.8" stroke="#e6e6e6" stroke-width="0.3" stroke-dasharray="0.8,0.5"/>
<line x1="341.0" y1="59.5" x2="341.0" y2="135.8" stroke="#e6e6e6" stroke-width="0.3" stroke-dasharray="0.8,0.5"/>
<line x1="355.0" y1="59.5" x2="355.0" y2="135.8" stroke="#e6e6e6" stroke-width="0.3" stroke-dasharray="0.8,0.5"/>
<line x1="369.0" y1="59.5" x2="369.0" y2="135.8" stroke="#e6e6e6" stroke-width="0.3" stroke-dasharray="0.8,0.5"/>
<line x1="383.0" y1="59.5" x2="383.0" y2="135.8" stroke="#e6e6e6" stroke-width="0.3" stroke-dasharray="0.8,0.5"/>
<line x1="397.0" y1="59.5" x2="397.0" y2="135.8" stroke="#e6e6e6" stroke-width="0.3" stroke-dasharray="0.8,0.5"/>
<line x1="411.0" y1="59.5" x2="411.0" y2="135.8" stroke="#e6e6e6" stroke-width="0.3" stroke-dasharray="0.8,0.5"/>
<line x1="320.7" y1="59.5" x2="320.7" y2="135.8" stroke="#444" stroke-width="0.4"/>
<line x1="320.7" y1="135.8" x2="422.0" y2="135.8" stroke="#444" stroke-width="0.4"/>
<line x1="319.4" y1="67.9" x2="321.2" y2="67.9" stroke="#444" stroke-width="0.45"/>
<text x="317.5" y="69.7" font-size="2.7" fill="#555" text-anchor="end" font-family="Liberation Sans">450</text>
<line x1="319.4" y1="84.5" x2="321.2" y2="84.5" stroke="#444" stroke-width="0.45"/>
<text x="317.5" y="86.3" font-size="2.7" fill="#555" text-anchor="end" font-family="Liberation Sans">400</text>
<line x1="319.4" y1="101.1" x2="321.2" y2="101.1" stroke="#444" stroke-width="0.45"/>
<text x="317.5" y="102.9" font-size="2.7" fill="#555" text-anchor="end" font-family="Liberation Sans">350</text>
<line x1="319.4" y1="117.5" x2="321.2" y2="117.5" stroke="#444" stroke-width="0.45"/>
<text x="317.5" y="119.3" font-size="2.7" fill="#555" text-anchor="end" font-family="Liberation Sans">300</text>
<line x1="319.4" y1="134.0" x2="321.2" y2="134.0" stroke="#444" stroke-width="0.45"/>
<text x="317.5" y="135.8" font-size="2.7" fill="#555" text-anchor="end" font-family="Liberation Sans">250</text>
<line x1="319.9" y1="61.3" x2="320.7" y2="61.3" stroke="#555" stroke-width="0.35"/>
<line x1="319.9" y1="64.6" x2="320.7" y2="64.6" stroke="#555" stroke-width="0.35"/>
<line x1="319.9" y1="71.2" x2="320.7" y2="71.2" stroke="#555" stroke-width="0.35"/>
<line x1="319.9" y1="74.5" x2="320.7" y2="74.5" stroke="#555" stroke-width="0.35"/>
<line x1="319.9" y1="77.8" x2="320.7" y2="77.8" stroke="#555" stroke-width="0.35"/>
<line x1="319.9" y1="81.1" x2="320.7" y2="81.1" stroke="#555" stroke-width="0.35"/>
<line x1="319.9" y1="87.7" x2="320.7" y2="87.7" stroke="#555" stroke-width="0.35"/>
<line x1="319.9" y1="91.0" x2="320.7" y2="91.0" stroke="#555" stroke-width="0.35"/>
<line x1="319.9" y1="94.3" x2="320.7" y2="94.3" stroke="#555" stroke-width="0.35"/>
<line x1="319.9" y1="97.6" x2="320.7" y2="97.6" stroke="#555" stroke-width="0.35"/>
<line x1="319.9" y1="104.2" x2="320.7" y2="104.2" stroke="#555" stroke-width="0.35"/>
<line x1="319.9" y1="107.5" x2="320.7" y2="107.5" stroke="#555" stroke-width="0.35"/>
<line x1="319.9" y1="110.8" x2="320.7" y2="110.8" stroke="#555" stroke-width="0.35"/>
<line x1="319.9" y1="114.1" x2="320.7" y2="114.1" stroke="#555" stroke-width="0.35"/>
<line x1="319.9" y1="120.7" x2="320.7" y2="120.7" stroke="#555" stroke-width="0.35"/>
<line x1="319.9" y1="124.0" x2="320.7" y2="124.0" stroke="#555" stroke-width="0.35"/>
<line x1="319.9" y1="127.3" x2="320.7" y2="127.3" stroke="#555" stroke-width="0.35"/>
<line x1="319.9" y1="130.6" x2="320.7" y2="130.6" stroke="#555" stroke-width="0.35"/>
<line x1="327.0" y1="135.8" x2="327.0" y2="137.3" stroke="#444" stroke-width="0.5"/>
<text x="327.0" y="142.9" font-size="2.7" fill="#555" text-anchor="middle" font-family="Liberation Sans">0.026</text>
<line x1="341.0" y1="135.8" x2="341.0" y2="137.3" stroke="#444" stroke-width="0.5"/>
<text x="341.0" y="142.9" font-size="2.7" fill="#555" text-anchor="middle" font-family="Liberation Sans">0.028</text>
<line x1="355.0" y1="135.8" x2="355.0" y2="137.3" stroke="#444" stroke-width="0.5"/>
<text x="355.0" y="142.9" font-size="2.7" fill="#555" text-anchor="middle" font-family="Liberation Sans">0.03</text>
<line x1="369.0" y1="135.8" x2="369.0" y2="137.3" stroke="#444" stroke-width="0.5"/>
<text x="369.0" y="142.9" font-size="2.7" fill="#555" text-anchor="middle" font-family="Liberation Sans">0.032</text>
<line x1="383.0" y1="135.8" x2="383.0" y2="137.3" stroke="#444" stroke-width="0.5"/>
<text x="383.0" y="142.9" font-size="2.7" fill="#555" text-anchor="middle" font-family="Liberation Sans">0.034</text>
<line x1="397.0" y1="135.8" x2="397.0" y2="137.3" stroke="#444" stroke-width="0.5"/>
<text x="397.0" y="142.9" font-size="2.7" fill="#555" text-anchor="middle" font-family="Liberation Sans">0.036</text>
<line x1="411.0" y1="135.8" x2="411.0" y2="137.3" stroke="#444" stroke-width="0.5"/>
<text x="411.0" y="142.9" font-size="2.7" fill="#555" text-anchor="middle" font-family="Liberation Sans">0.038</text>
<line x1="321.4" y1="135.8" x2="321.4" y2="136.7" stroke="#555" stroke-width="0.4"/>
<line x1="324.2" y1="135.8" x2="324.2" y2="136.7" stroke="#555" stroke-width="0.4"/>
<line x1="329.8" y1="135.8" x2="329.8" y2="136.7" stroke="#555" stroke-width="0.4"/>
<line x1="332.6" y1="135.8" x2="332.6" y2="136.7" stroke="#555" stroke-width="0.4"/>
<line x1="335.4" y1="135.8" x2="335.4" y2="136.7" stroke="#555" stroke-width="0.4"/>
<line x1="338.2" y1="135.8" x2="338.2" y2="136.7" stroke="#555" stroke-width="0.4"/>
<line x1="343.8" y1="135.8" x2="343.8" y2="136.7" stroke="#555" stroke-width="0.4"/>
<line x1="346.6" y1="135.8" x2="346.6" y2="136.7" stroke="#555" stroke-width="0.4"/>
<line x1="349.4" y1="135.8" x2="349.4" y2="136.7" stroke="#555" stroke-width="0.4"/>
<line x1="352.2" y1="135.8" x2="352.2" y2="136.7" stroke="#555" stroke-width="0.4"/>
<line x1="357.8" y1="135.8" x2="357.8" y2="136.7" stroke="#555" stroke-width="0.4"/>
<line x1="360.6" y1="135.8" x2="360.6" y2="136.7" stroke="#555" stroke-width="0.4"/>
<line x1="363.4" y1="135.8" x2="363.4" y2="136.7" stroke="#555" stroke-width="0.4"/>
<line x1="366.2" y1="135.8" x2="366.2" y2="136.7" stroke="#555" stroke-width="0.4"/>
<line x1="371.8" y1="135.8" x2="371.8" y2="136.7" stroke="#555" stroke-width="0.4"/>
<line x1="374.6" y1="135.8" x2="374.6" y2="136.7" stroke="#555" stroke-width="0.4"/>
<line x1="377.4" y1="135.8" x2="377.4" y2="136.7" stroke="#555" stroke-width="0.4"/>
<line x1="380.2" y1="135.8" x2="380.2" y2="136.7" stroke="#555" stroke-width="0.4"/>
<line x1="385.8" y1="135.8" x2="385.8" y2="136.7" stroke="#555" stroke-width="0.4"/>
<line x1="388.6" y1="135.8" x2="388.6" y2="136.7" stroke="#555" stroke-width="0.4"/>
<line x1="391.4" y1="135.8" x2="391.4" y2="136.7" stroke="#555" stroke-width="0.4"/>
<line x1="394.2" y1="135.8" x2="394.2" y2="136.7" stroke="#555" stroke-width="0.4"/>
<line x1="399.8" y1="135.8" x2="399.8" y2="136.7" stroke="#555" stroke-width="0.4"/>
<line x1="402.6" y1="135.8" x2="402.6" y2="136.7" stroke="#555" stroke-width="0.4"/>
<line x1="405.4" y1="135.8" x2="405.4" y2="136.7" stroke="#555" stroke-width="0.4"/>
<line x1="408.2" y1="135.8" x2="408.2" y2="136.7" stroke="#555" stroke-width="0.4"/>
<line x1="413.8" y1="135.8" x2="413.8" y2="136.7" stroke="#555" stroke-width="0.4"/>
<line x1="416.6" y1="135.8" x2="416.6" y2="136.7" stroke="#555" stroke-width="0.4"/>
<line x1="419.4" y1="135.8" x2="419.4" y2="136.7" stroke="#555" stroke-width="0.4"/>
<circle cx="328.5" cy="129.6" r="0.90" fill="#30123b"/>
<circle cx="329.3" cy="130.1" r="0.90" fill="#30123b"/>
<circle cx="335.0" cy="106.7" r="0.80" fill="#4458cb"/>
<circle cx="352.1" cy="112.9" r="0.80" fill="#4458cb"/>
<circle cx="363.1" cy="98.7" r="0.80" fill="#3e9bfe"/>
<circle cx="364.6" cy="98.9" r="0.80" fill="#3e9bfe"/>
<circle cx="366.8" cy="109.6" r="0.80" fill="#3e9bfe"/>
<circle cx="380.5" cy="99.2" r="0.70" fill="#46f783"/>
<circle cx="382.5" cy="70.8" r="0.60" fill="#fda330"/>
<circle cx="387.1" cy="71.1" r="0.60" fill="#fda330"/>
<circle cx="392.8" cy="65.6" r="0.60" fill="#fda330"/>
<circle cx="392.8" cy="66.8" r="0.60" fill="#fda330"/>
<circle cx="396.6" cy="68.1" r="0.60" fill="#ef5a11"/>
<circle cx="396.1" cy="71.9" r="0.60" fill="#fda330"/>
<circle cx="399.5" cy="70.5" r="0.60" fill="#ef5a11"/>
<circle cx="401.5" cy="72.5" r="0.60" fill="#ef5a11"/>
<rect x="400.3" y="66.2" width="21.5" height="69.4" fill="#fff" fill-opacity="0.9"/>
<circle cx="403.2" cy="70.0" r="1.3" fill="#30123b" fill-opacity="1.00"/>
<text x="407.2" y="71.3" font-size="3.7" fill="#444" fill-opacity="1.00" font-family="Liberation Sans">1 (5)</text>
<circle cx="403.2" cy="77.0" r="1.3" fill="#4458cb" fill-opacity="1.00"/>
<text x="407.2" y="78.3" font-size="3.7" fill="#444" fill-opacity="1.00" font-family="Liberation Sans">2 (5)</text>
<circle cx="403.2" cy="84.0" r="1.3" fill="#3e9bfe" fill-opacity="1.00"/>
<text x="407.2" y="85.3" font-size="3.7" fill="#444" fill-opacity="1.00" font-family="Liberation Sans">3 (5)</text>
<circle cx="403.2" cy="91.0" r="1.3" fill="#18d5cc" fill-opacity="0.25"/>
<text x="407.2" y="92.3" font-size="3.7" fill="#444" fill-opacity="0.30" font-family="Liberation Sans">4 (12)</text>
<circle cx="403.2" cy="98.0" r="1.3" fill="#46f783" fill-opacity="1.00"/>
<text x="407.2" y="99.3" font-size="3.7" fill="#444" fill-opacity="1.00" font-family="Liberation Sans">5 (4)</text>
<circle cx="403.2" cy="105.0" r="1.3" fill="#a4fc3b" fill-opacity="0.25"/>
<text x="407.2" y="106.3" font-size="3.7" fill="#444" fill-opacity="0.30" font-family="Liberation Sans">6 (2)</text>
<circle cx="403.2" cy="112.0" r="1.3" fill="#e1dc37" fill-opacity="0.25"/>
<text x="407.2" y="113.3" font-size="3.7" fill="#444" fill-opacity="0.30" font-family="Liberation Sans">7 (2)</text>
<circle cx="403.2" cy="119.0" r="1.3" fill="#fda330" fill-opacity="1.00"/>
<text x="407.2" y="120.3" font-size="3.7" fill="#444" fill-opacity="1.00" font-family="Liberation Sans">8 (6)</text>
<circle cx="403.2" cy="126.0" r="1.3" fill="#ef5a11" fill-opacity="1.00"/>
<text x="407.2" y="127.3" font-size="3.7" fill="#444" fill-opacity="1.00" font-family="Liberation Sans">9 (6)</text>
<circle cx="403.2" cy="133.0" r="1.3" fill="#c32402" fill-opacity="1.00"/>
<text x="407.2" y="134.3" font-size="3.7" fill="#444" fill-opacity="1.00" font-family="Liberation Sans">10 (6)</text>
<line x1="320.4" y1="160.9" x2="422.5" y2="160.9" stroke="#e6e6e6" stroke-width="0.3" stroke-dasharray="0.8,0.5"/>
<line x1="320.4" y1="172.2" x2="422.5" y2="172.2" stroke="#e6e6e6" stroke-width="0.3" stroke-dasharray="0.8,0.5"/>
<line x1="320.4" y1="183.5" x2="422.5" y2="183.5" stroke="#e6e6e6" stroke-width="0.3" stroke-dasharray="0.8,0.5"/>
<line x1="320.4" y1="194.6" x2="422.5" y2="194.6" stroke="#e6e6e6" stroke-width="0.3" stroke-dasharray="0.8,0.5"/>
<line x1="320.4" y1="205.6" x2="422.5" y2="205.6" stroke="#e6e6e6" stroke-width="0.3" stroke-dasharray="0.8,0.5"/>
<line x1="338.8" y1="152.3" x2="338.8" y2="213.7" stroke="#e6e6e6" stroke-width="0.3" stroke-dasharray="0.8,0.5"/>
<line x1="357.4" y1="152.3" x2="357.4" y2="213.7" stroke="#e6e6e6" stroke-width="0.3" stroke-dasharray="0.8,0.5"/>
<line x1="375.9" y1="152.3" x2="375.9" y2="213.7" stroke="#e6e6e6" stroke-width="0.3" stroke-dasharray="0.8,0.5"/>
<line x1="394.5" y1="152.3" x2="394.5" y2="213.7" stroke="#e6e6e6" stroke-width="0.3" stroke-dasharray="0.8,0.5"/>
<line x1="413.0" y1="152.3" x2="413.0" y2="213.7" stroke="#e6e6e6" stroke-width="0.3" stroke-dasharray="0.8,0.5"/>
<line x1="320.4" y1="152.3" x2="320.4" y2="213.7" stroke="#444" stroke-width="0.4"/>
<line x1="320.4" y1="213.7" x2="422.5" y2="213.7" stroke="#444" stroke-width="0.4"/>
<line x1="319.1" y1="160.9" x2="320.9" y2="160.9" stroke="#444" stroke-width="0.45"/>
<text x="317.2" y="162.7" font-size="2.7" fill="#555" text-anchor="end" font-family="Liberation Sans">16</text>
<line x1="319.1" y1="172.2" x2="320.9" y2="172.2" stroke="#444" stroke-width="0.45"/>
<text x="317.2" y="174.0" font-size="2.7" fill="#555" text-anchor="end" font-family="Liberation Sans">14</text>
<line x1="319.1" y1="183.5" x2="320.9" y2="183.5" stroke="#444" stroke-width="0.45"/>
<text x="317.2" y="185.3" font-size="2.7" fill="#555" text-anchor="end" font-family="Liberation Sans">12</text>
<line x1="319.1" y1="194.6" x2="320.9" y2="194.6" stroke="#444" stroke-width="0.45"/>
<text x="317.2" y="196.4" font-size="2.7" fill="#555" text-anchor="end" font-family="Liberation Sans">10</text>
<line x1="319.1" y1="205.6" x2="320.9" y2="205.6" stroke="#444" stroke-width="0.45"/>
<text x="317.2" y="207.4" font-size="2.7" fill="#555" text-anchor="end" font-family="Liberation Sans">8</text>
<line x1="319.6" y1="152.5" x2="320.4" y2="152.5" stroke="#555" stroke-width="0.35"/>
<line x1="319.6" y1="155.3" x2="320.4" y2="155.3" stroke="#555" stroke-width="0.35"/>
<line x1="319.6" y1="158.1" x2="320.4" y2="158.1" stroke="#555" stroke-width="0.35"/>
<line x1="319.6" y1="163.7" x2="320.4" y2="163.7" stroke="#555" stroke-width="0.35"/>
<line x1="319.6" y1="166.5" x2="320.4" y2="166.5" stroke="#555" stroke-width="0.35"/>
<line x1="319.6" y1="169.3" x2="320.4" y2="169.3" stroke="#555" stroke-width="0.35"/>
<line x1="319.6" y1="174.9" x2="320.4" y2="174.9" stroke="#555" stroke-width="0.35"/>
<line x1="319.6" y1="177.7" x2="320.4" y2="177.7" stroke="#555" stroke-width="0.35"/>
<line x1="319.6" y1="180.5" x2="320.4" y2="180.5" stroke="#555" stroke-width="0.35"/>
<line x1="319.6" y1="186.1" x2="320.4" y2="186.1" stroke="#555" stroke-width="0.35"/>
<line x1="319.6" y1="188.9" x2="320.4" y2="188.9" stroke="#555" stroke-width="0.35"/>
<line x1="319.6" y1="191.7" x2="320.4" y2="191.7" stroke="#555" stroke-width="0.35"/>
<line x1="319.6" y1="197.3" x2="320.4" y2="197.3" stroke="#555" stroke-width="0.35"/>
<line x1="319.6" y1="200.1" x2="320.4" y2="200.1" stroke="#555" stroke-width="0.35"/>
<line x1="319.6" y1="202.9" x2="320.4" y2="202.9" stroke="#555" stroke-width="0.35"/>
<line x1="319.6" y1="208.5" x2="320.4" y2="208.5" stroke="#555" stroke-width="0.35"/>
<line x1="319.6" y1="211.3" x2="320.4" y2="211.3" stroke="#555" stroke-width="0.35"/>
<line x1="320.3" y1="213.7" x2="320.3" y2="215.2" stroke="#444" stroke-width="0.5"/>
<text x="320.3" y="220.8" font-size="2.7" fill="#555" text-anchor="middle" font-family="Liberation Sans">0</text>
<line x1="338.8" y1="213.7" x2="338.8" y2="215.2" stroke="#444" stroke-width="0.5"/>
<text x="338.8" y="220.8" font-size="2.7" fill="#555" text-anchor="middle" font-family="Liberation Sans">2</text>
<line x1="357.4" y1="213.7" x2="357.4" y2="215.2" stroke="#444" stroke-width="0.5"/>
<text x="357.4" y="220.8" font-size="2.7" fill="#555" text-anchor="middle" font-family="Liberation Sans">4</text>
<line x1="375.9" y1="213.7" x2="375.9" y2="215.2" stroke="#444" stroke-width="0.5"/>
<text x="375.9" y="220.8" font-size="2.7" fill="#555" text-anchor="middle" font-family="Liberation Sans">6</text>
<line x1="394.5" y1="213.7" x2="394.5" y2="215.2" stroke="#444" stroke-width="0.5"/>
<text x="394.5" y="220.8" font-size="2.7" fill="#555" text-anchor="middle" font-family="Liberation Sans">8</text>
<line x1="413.0" y1="213.7" x2="413.0" y2="215.2" stroke="#444" stroke-width="0.5"/>
<text x="413.0" y="220.8" font-size="2.7" fill="#555" text-anchor="middle" font-family="Liberation Sans">10</text>
<line x1="324.9" y1="213.7" x2="324.9" y2="214.6" stroke="#555" stroke-width="0.4"/>
<line x1="329.6" y1="213.7" x2="329.6" y2="214.6" stroke="#555" stroke-width="0.4"/>
<line x1="334.2" y1="213.7" x2="334.2" y2="214.6" stroke="#555" stroke-width="0.4"/>
<line x1="343.5" y1="213.7" x2="343.5" y2="214.6" stroke="#555" stroke-width="0.4"/>
<line x1="348.1" y1="213.7" x2="348.1" y2="214.6" stroke="#555" stroke-width="0.4"/>
<line x1="352.7" y1="213.7" x2="352.7" y2="214.6" stroke="#555" stroke-width="0.4"/>
<line x1="362.0" y1="213.7" x2="362.0" y2="214.6" stroke="#555" stroke-width="0.4"/>
<line x1="366.6" y1="213.7" x2="366.6" y2="214.6" stroke="#555" stroke-width="0.4"/>
<line x1="371.3" y1="213.7" x2="371.3" y2="214.6" stroke="#555" stroke-width="0.4"/>
<line x1="380.6" y1="213.7" x2="380.6" y2="214.6" stroke="#555" stroke-width="0.4"/>
<line x1="385.2" y1="213.7" x2="385.2" y2="214.6" stroke="#555" stroke-width="0.4"/>
<line x1="389.8" y1="213.7" x2="389.8" y2="214.6" stroke="#555" stroke-width="0.4"/>
<line x1="399.1" y1="213.7" x2="399.1" y2="214.6" stroke="#555" stroke-width="0.4"/>
<line x1="403.7" y1="213.7" x2="403.7" y2="214.6" stroke="#555" stroke-width="0.4"/>
<line x1="408.4" y1="213.7" x2="408.4" y2="214.6" stroke="#555" stroke-width="0.4"/>
<line x1="417.6" y1="213.7" x2="417.6" y2="214.6" stroke="#555" stroke-width="0.4"/>
<line x1="422.3" y1="213.7" x2="422.3" y2="214.6" stroke="#555" stroke-width="0.4"/>
<circle cx="329.6" cy="211.2" r="0.75" fill="#30123b"/>
<circle cx="338.8" cy="195.2" r="0.75" fill="#4458cb"/>
<circle cx="348.1" cy="187.1" r="0.75" fill="#3e9bfe"/>
<circle cx="357.4" cy="179.8" r="0.75" fill="#18d5cc"/>
<circle cx="366.6" cy="170.9" r="2.20" fill="#46f783"/>
<circle cx="375.9" cy="167.5" r="0.75" fill="#a4fc3b"/>
<circle cx="385.2" cy="161.9" r="0.75" fill="#e1dc37"/>
<circle cx="394.5" cy="158.6" r="0.75" fill="#fda330"/>
<circle cx="403.7" cy="155.5" r="0.75" fill="#ef5a11"/>
<circle cx="413.0" cy="156.3" r="0.75" fill="#c32402"/>
</svg>
<div class="a" style="left:320px;top:53.5px;font-size:3.92px;color:#333;line-height:5px">Pareto Front</div>
<div class="a" style="left:320px;top:146.3px;font-size:3.94px;color:#333;line-height:5px">Hypervolume</div>

<!-- Right card: Network Parameters -->
<div class="a" style="left:425.5px;top:25.2px;width:117.5px;height:12.4px;background:#f7f7f7;border:0.5px solid #ededed"></div>
<div class="a t39" style="left:427.5px;top:29.1px;font-size:3.88px;color:#333">Network Parameters</div>
<div class="a" style="left:425.2px;top:39.3px;width:117.3px;height:195.6px;border:0.5px solid #e2e2e2;border-bottom:none;background:#fff"></div>
<div class="a" style="left:439.7px;top:44.1px;font-size:2.9px;color:#444;line-height:3px">Head Loss</div>
<div class="a" style="left:457.9px;top:44.1px;font-size:2.6px;color:#444;line-height:3px">H-W</div>
<div class="a" style="left:499.4px;top:44.1px;font-size:2.9px;color:#444;line-height:3px">Flow Units</div>
<div class="a" style="left:518px;top:44.1px;font-size:2.6px;color:#444;line-height:3px">GPM</div>
<div class="a" style="left:425.7px;top:49.8px;width:111.5px;height:8px;background:#f5f5f5;border-bottom:0.5px solid #e6e6e6"></div>
<div class="a" style="left:427.5px;top:51.4px;font-size:3.95px;color:#333;line-height:5px">Analysis</div>
<div class="a" style="left:499px;top:52.2px;width:8px;height:4px;border:0.4px solid #eee;background:#fff;font-size:2.6px;line-height:3.4px;text-align:center;color:#555">load</div>
<div class="a" style="left:509px;top:52.2px;width:9px;height:4px;border:0.4px solid #eee;background:#fff;font-size:2.6px;line-height:3.4px;text-align:center;color:#555">save</div>
<div class="a" style="left:520.5px;top:52.2px;width:15.5px;height:4px;border:0.4px solid #eee;background:#fff;font-size:2.6px;line-height:3.4px;text-align:center;color:#555">autosave</div>
<!-- vertical scrollbar -->
<div class="a" style="left:537.6px;top:39.6px;width:4.7px;height:189.8px;background:#f1f1f1"></div>
<div class="a" style="left:539.2px;top:43.8px;width:0;height:0;border-left:1px solid transparent;border-right:1px solid transparent;border-bottom:1.3px solid #a3a3a3"></div>
<div class="a" style="left:539.2px;top:224px;width:0;height:0;border-left:1px solid transparent;border-right:1px solid transparent;border-top:1.3px solid #a3a3a3"></div>

<!-- Search Space Reduction -->
<div class="card" style="top:59.5px;height:22.3px"></div>
<div class="a bt" style="left:429.3px;top:63.1px">Search Space Reduction</div>
<div class="a" style="left:433.6px;top:70.8px;width:44.2px;height:7.9px;background:#efefef;font-size:3.3px;line-height:7.9px;text-align:center;color:#444;padding-top:1.1px">Method1</div>
<div class="a" style="left:486.6px;top:70.8px;width:44px;height:7.9px;background:#efefef;font-size:3.3px;line-height:7.9px;text-align:center;color:#444;padding-top:1.1px">Method2</div>

<!-- Pressure Sensitivity -->
<div class="card" style="top:82.6px;height:49px"></div>
<div class="a bt" style="left:429.3px;top:87.2px;font-size:3.33px">Pressure Sensitivity Analysis</div>
<div class="a lbl" style="left:429.3px;top:96.0px">Steps</div>
<div class="a lbl" style="left:429.3px;top:104.7px">Roughness variation</div>
<div class="a lbl" style="left:429.3px;top:112.7px">Emitter coeficient variation</div>
<div class="inp" style="top:93px">1</div>
<div class="inp" style="top:101.5px">5.000</div>
<div class="inp" style="top:110px">0.5016</div>
<div class="gb" style="left:433.3px;top:120.4px;width:44.4px">Roughness (1267)</div>
<div class="gb" style="left:486.6px;top:120.4px;width:43.9px">Burst (1262)</div>

<!-- Multi objective -->
<div class="card" style="top:131.6px;height:57.8px"></div>
<div class="a bt" style="left:429.3px;top:136.8px;font-size:3.37px">Multi-Objective Optimization for Optimal Location</div>
<div class="a lbl" style="left:429.3px;top:145.4px">Algorithm</div>
<div class="a lbl" style="left:429.3px;top:154.1px">Minimum sensors</div>
<div class="a lbl" style="left:429.3px;top:162.3px">Maximum sensors</div>
<div class="a lbl" style="left:429.3px;top:170.6px">Generations</div>
<div class="inp" style="top:142.5px;height:8.8px;padding-left:5.8px;font-size:3.5px">NSGA-II</div>
<svg class="a" style="left:531px;top:145.6px" width="3" height="2" viewBox="0 0 3 2"><path d="M0.3 0.3 L1.5 1.6 L2.7 0.3" fill="none" stroke="#111" stroke-width="0.8"/></svg>
<div class="inp" style="top:151.3px">1</div>
<div class="inp" style="top:159.6px">10</div>
<div class="inp" style="top:168.1px">25</div>
<div class="gb" style="left:433.3px;top:178.1px;width:97.2px;height:8.2px;line-height:8.2px">Optimization (82)</div>

<!-- Optimal number -->
<div class="card" style="top:189.4px;height:29.8px"></div>
<div class="a bt" style="left:429.3px;top:195.6px;font-size:3.41px">Optimal Number of Pressure Sensors</div>
<div class="a lbl" style="left:432.1px;top:202.6px">Algorithm</div>
<div class="inp" style="top:200.7px;height:5.9px;line-height:5px;padding-left:10.5px;font-size:3.4px">Kneedle</div>
<svg class="a" style="left:531px;top:202.6px" width="3" height="2" viewBox="0 0 3 2"><path d="M0.3 0.3 L1.5 1.6 L2.7 0.3" fill="none" stroke="#111" stroke-width="0.8"/></svg>
<div class="gb" style="left:433.3px;top:208px;width:97.2px;height:8.1px;line-height:8.1px">Optimal Number (5)</div>

<!-- horizontal scrollbar -->
<div class="a" style="left:425.7px;top:229.2px;width:111.9px;height:5.4px;background:#f1f1f1"></div>
<div class="a" style="left:432.2px;top:229.7px;width:95.8px;height:4.4px;background:#c1c1c1"></div>
<div class="a" style="left:428.3px;top:231.1px;width:0;height:0;border-top:1px solid transparent;border-bottom:1px solid transparent;border-right:1.2px solid #a3a3a3"></div>
<div class="a" style="left:533.5px;top:231.1px;width:0;height:0;border-top:1px solid transparent;border-bottom:1px solid transparent;border-left:1.2px solid #505050"></div>
<div class="a" style="left:537.6px;top:229.2px;width:4.7px;height:5.4px;background:#dcdcdc"></div>

<!-- Output -->
<div class="a" style="left:427.5px;top:237.1px;font-size:3.9px;color:#333;line-height:5px">Output</div>
<div class="a" style="left:425.2px;top:244.6px;width:117px;height:29.5px;border:0.5px solid #e2e2e2;background:#fff"></div>
<div class="a" style="left:427.5px;top:247.2px;font-size:3.93px;color:#333;line-height:5px">solution: 341,491,909,1035,1214</div>
<div class="a" style="left:539.6px;top:247.4px;width:0;height:0;border-left:0.9px solid transparent;border-right:0.9px solid transparent;border-bottom:1.2px solid #a3a3a3"></div>
<div class="a" style="left:539.6px;top:268px;width:0;height:0;border-left:0.9px solid transparent;border-right:0.9px solid transparent;border-top:1.2px solid #a3a3a3"></div>

</body></html>
